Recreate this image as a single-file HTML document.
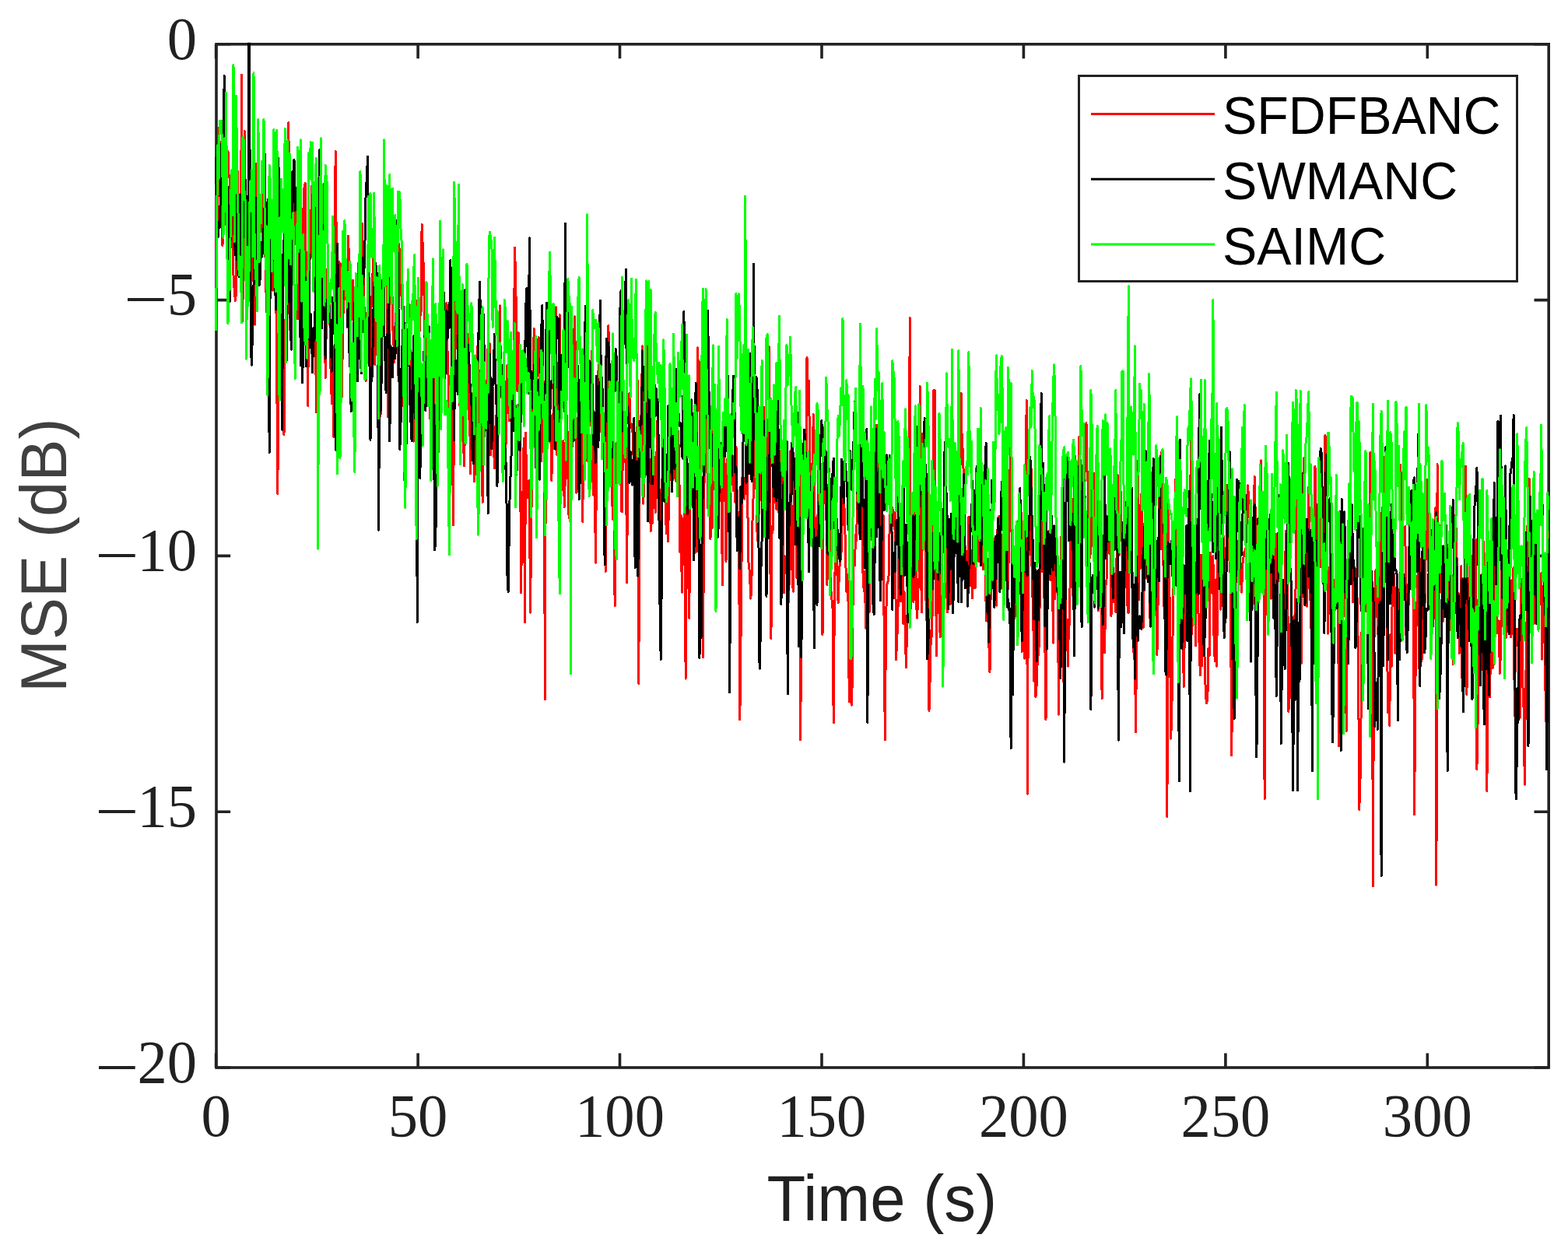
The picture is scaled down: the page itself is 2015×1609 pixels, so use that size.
<!DOCTYPE html>
<html><head><meta charset="utf-8"><title>MSE (dB) vs Time (s)</title>
<style>html,body{margin:0;padding:0;background:#fff;}body{width:2015px;height:1609px;overflow:hidden;}svg{display:block;}</style>
</head><body>
<svg width="2015" height="1609" viewBox="0 0 2015 1609">
<defs><clipPath id="c"><rect x="275.6" y="54.8" width="1716.4" height="1319.2"/></clipPath></defs>
<path d="M277.6 1372.0V1353.5M277.6 56.8V75.3M537.1 1372.0V1353.5M537.1 56.8V75.3M796.5 1372.0V1353.5M796.5 56.8V75.3M1056.0 1372.0V1353.5M1056.0 56.8V75.3M1315.4 1372.0V1353.5M1315.4 56.8V75.3M1574.9 1372.0V1353.5M1574.9 56.8V75.3M1834.3 1372.0V1353.5M1834.3 56.8V75.3M277.6 56.8H296.1M1990.0 56.8H1971.5M277.6 385.6H296.1M1990.0 385.6H1971.5M277.6 714.4H296.1M1990.0 714.4H1971.5M277.6 1043.2H296.1M1990.0 1043.2H1971.5M277.6 1372.0H296.1M1990.0 1372.0H1971.5" stroke="#222222" stroke-width="3.6" fill="none"/>
<rect x="278.0" y="56.8" width="1712.2" height="1315.2" fill="none" stroke="#222222" stroke-width="3.6"/>
<g clip-path="url(#c)"><polyline fill="none" stroke="#ff0000" stroke-width="3" stroke-linejoin="round" shape-rendering="crispEdges" points="277.6,319.8 278.8,293.5 280.0,254.1 281.1,164.6 282.3,225.9 283.5,182.2 284.7,257.7 285.9,316.0 287.0,296.7 288.2,288.8 289.4,270.4 290.6,235.1 291.8,211.0 293.0,194.2 294.1,225.9 295.3,229.5 296.5,318.3 297.7,269.4 298.9,284.9 300.0,354.0 301.2,372.8 302.4,386.4 303.6,376.8 304.8,202.0 305.9,291.1 307.1,311.9 308.3,348.0 309.5,268.0 310.7,96.3 311.8,413.1 313.0,258.2 314.2,168.3 315.4,276.3 316.6,389.2 317.8,356.5 318.9,301.9 320.1,284.2 321.3,356.1 322.5,370.4 323.7,239.3 324.8,360.9 326.0,354.5 327.2,417.2 328.4,320.8 329.6,210.5 330.7,261.6 331.9,321.8 333.1,299.7 334.3,262.5 335.5,270.6 336.6,285.2 337.8,326.0 339.0,237.7 340.2,287.6 341.4,351.4 342.6,400.4 343.7,332.3 344.9,335.0 346.1,288.2 347.3,327.0 348.5,316.6 349.6,322.0 350.8,373.2 352.0,325.5 353.2,357.8 354.4,364.4 355.5,434.4 356.7,634.4 357.9,518.6 359.1,406.1 360.3,455.4 361.4,385.0 362.6,352.0 363.8,390.0 365.0,558.9 366.2,410.9 367.4,421.3 368.5,320.1 369.7,313.3 370.9,157.4 372.1,423.8 373.3,319.6 374.4,277.1 375.6,244.0 376.8,303.3 378.0,233.9 379.2,262.4 380.3,310.9 381.5,317.0 382.7,409.8 383.9,348.5 385.1,297.9 386.2,232.3 387.4,349.9 388.6,268.1 389.8,301.2 391.0,241.4 392.2,235.6 393.3,353.6 394.5,411.2 395.7,521.3 396.9,336.7 398.1,333.6 399.2,331.5 400.4,239.4 401.6,277.6 402.8,292.5 404.0,300.6 405.1,330.4 406.3,529.5 407.5,460.5 408.7,428.3 409.9,354.0 411.0,340.2 412.2,329.4 413.4,364.8 414.6,321.6 415.8,236.3 417.0,261.0 418.1,485.5 419.3,420.3 420.5,346.1 421.7,369.2 422.9,386.0 424.0,417.9 425.2,483.3 426.4,519.0 427.6,458.4 428.8,561.8 429.9,472.5 431.1,194.2 432.3,313.4 433.5,314.5 434.7,452.4 435.8,336.7 437.0,338.4 438.2,345.1 439.4,510.4 440.6,417.2 441.8,375.8 442.9,384.5 444.1,341.4 445.3,363.1 446.5,420.8 447.7,303.1 448.8,357.3 450.0,461.4 451.2,403.1 452.4,400.3 453.6,360.6 454.7,451.7 455.9,563.4 457.1,454.5 458.3,465.4 459.5,486.0 460.6,338.6 461.8,426.2 463.0,369.7 464.2,319.6 465.4,287.2 466.6,329.9 467.7,378.5 468.9,438.5 470.1,489.5 471.3,413.4 472.5,392.3 473.6,401.0 474.8,363.5 476.0,473.2 477.2,381.1 478.4,386.3 479.5,321.9 480.7,377.0 481.9,468.9 483.1,354.3 484.3,371.0 485.4,480.5 486.6,417.1 487.8,488.5 489.0,535.1 490.2,444.4 491.4,423.0 492.5,364.1 493.7,283.9 494.9,322.8 496.1,262.0 497.3,287.2 498.4,535.6 499.6,499.6 500.8,387.4 502.0,379.3 503.2,276.0 504.3,419.1 505.5,428.0 506.7,465.9 507.9,424.1 509.1,372.3 510.3,385.4 511.4,482.1 512.6,313.5 513.8,329.4 515.0,379.9 516.2,325.3 517.3,424.6 518.5,453.4 519.7,616.7 520.9,513.0 522.1,457.3 523.2,423.4 524.4,459.5 525.6,419.7 526.8,391.8 528.0,528.2 529.1,523.5 530.3,502.5 531.5,567.3 532.7,527.2 533.9,469.6 535.1,410.0 536.2,387.4 537.4,383.5 538.6,441.2 539.8,398.2 541.0,404.3 542.1,288.4 543.3,317.9 544.5,349.0 545.7,422.2 546.9,492.6 548.0,503.7 549.2,413.8 550.4,420.9 551.6,458.2 552.8,538.2 553.9,462.6 555.1,504.1 556.3,492.4 557.5,561.5 558.7,475.3 559.9,545.0 561.0,434.9 562.2,465.4 563.4,580.9 564.6,483.2 565.8,421.2 566.9,436.1 568.1,412.5 569.3,380.7 570.5,429.0 571.7,446.4 572.8,392.7 574.0,389.7 575.2,460.9 576.4,491.7 577.6,578.5 578.7,529.6 579.9,472.8 581.1,468.3 582.3,674.7 583.5,547.0 584.7,491.0 585.8,345.6 587.0,343.6 588.2,411.6 589.4,474.0 590.6,520.7 591.7,378.7 592.9,464.1 594.1,472.3 595.3,559.7 596.5,599.0 597.6,544.5 598.8,486.5 600.0,497.5 601.2,429.3 602.4,539.0 603.5,524.8 604.7,608.6 605.9,505.4 607.1,521.5 608.3,516.0 609.5,618.8 610.6,601.0 611.8,539.1 613.0,515.5 614.2,430.6 615.4,584.6 616.5,519.6 617.7,475.7 618.9,543.2 620.1,645.6 621.3,549.7 622.4,560.8 623.6,507.3 624.8,490.3 626.0,488.7 627.2,441.1 628.3,516.1 629.5,441.8 630.7,584.6 631.9,516.3 633.1,497.1 634.3,562.5 635.4,602.0 636.6,595.0 637.8,533.4 639.0,577.3 640.2,482.7 641.3,480.5 642.5,392.8 643.7,510.6 644.9,497.7 646.1,493.9 647.2,510.8 648.4,490.4 649.6,602.8 650.8,512.0 652.0,469.5 653.1,501.6 654.3,540.7 655.5,467.2 656.7,477.4 657.9,538.1 659.1,536.5 660.2,482.9 661.4,318.0 662.6,354.4 663.8,434.2 665.0,502.5 666.1,427.6 667.3,528.2 668.5,581.9 669.7,761.9 670.9,632.2 672.0,640.9 673.2,563.1 674.4,799.9 675.6,556.5 676.8,637.4 677.9,639.8 679.1,618.1 680.3,617.8 681.5,787.2 682.7,682.7 683.9,567.0 685.0,493.2 686.2,422.5 687.4,515.6 688.6,518.3 689.8,478.4 690.9,463.4 692.1,433.5 693.3,500.7 694.5,546.3 695.7,592.5 696.8,554.8 698.0,488.2 699.2,557.1 700.4,898.5 701.6,463.3 702.7,508.6 703.9,491.3 705.1,502.6 706.3,534.9 707.5,534.0 708.7,617.4 709.8,587.9 711.0,531.4 712.2,486.2 713.4,516.0 714.6,394.8 715.7,584.4 716.9,532.1 718.1,489.9 719.3,404.6 720.5,532.6 721.6,630.1 722.8,617.6 724.0,566.2 725.2,651.4 726.4,612.4 727.5,580.8 728.7,534.2 729.9,611.1 731.1,665.6 732.3,563.9 733.5,508.3 734.6,597.9 735.8,532.0 737.0,510.2 738.2,406.8 739.4,452.3 740.5,633.2 741.7,631.5 742.9,538.2 744.1,515.5 745.3,524.2 746.4,528.3 747.6,482.9 748.8,670.8 750.0,509.9 751.2,551.7 752.3,488.2 753.5,548.8 754.7,592.4 755.9,585.2 757.1,507.4 758.3,546.6 759.4,523.1 760.6,450.9 761.8,616.2 763.0,637.1 764.2,577.0 765.3,723.2 766.5,611.4 767.7,522.7 768.9,476.9 770.1,465.7 771.2,539.2 772.4,554.4 773.6,529.8 774.8,553.3 776.0,566.6 777.1,677.6 778.3,734.4 779.5,573.6 780.7,521.2 781.9,418.3 783.1,496.9 784.2,513.3 785.4,511.3 786.6,642.4 787.8,667.2 789.0,596.5 790.1,778.8 791.3,667.7 792.5,592.9 793.7,535.5 794.9,501.5 796.0,516.0 797.2,520.5 798.4,657.2 799.6,657.9 800.8,504.2 801.9,593.6 803.1,585.3 804.3,540.4 805.5,748.9 806.7,609.8 807.9,553.6 809.0,505.1 810.2,549.3 811.4,548.4 812.6,545.7 813.8,575.5 814.9,623.2 816.1,586.6 817.3,601.7 818.5,527.1 819.7,489.6 820.8,878.8 822.0,580.6 823.2,567.5 824.4,516.8 825.6,444.7 826.7,647.1 827.9,618.7 829.1,562.9 830.3,505.4 831.5,388.5 832.7,606.7 833.8,582.8 835.0,615.8 836.2,682.7 837.4,586.2 838.6,672.2 839.7,603.5 840.9,587.1 842.1,658.9 843.3,635.8 844.5,541.2 845.6,541.5 846.8,636.0 848.0,702.6 849.2,651.6 850.4,616.2 851.5,622.3 852.7,640.5 853.9,604.4 855.1,642.8 856.3,685.7 857.5,644.2 858.6,695.4 859.8,620.4 861.0,606.2 862.2,599.5 863.4,592.7 864.5,617.1 865.7,588.1 866.9,580.5 868.1,618.2 869.3,579.0 870.4,595.6 871.6,553.9 872.8,603.6 874.0,710.1 875.2,662.2 876.3,761.1 877.5,704.0 878.7,689.5 879.9,597.9 881.1,872.2 882.3,545.4 883.4,649.4 884.6,737.2 885.8,794.7 887.0,617.1 888.2,586.5 889.3,602.7 890.5,637.0 891.7,620.9 892.9,710.7 894.1,707.3 895.2,708.8 896.4,446.9 897.6,475.6 898.8,464.8 900.0,588.4 901.1,642.8 902.3,708.0 903.5,844.8 904.7,655.1 905.9,530.2 907.1,513.1 908.2,518.9 909.4,649.7 910.6,657.1 911.8,613.6 913.0,693.0 914.1,596.0 915.3,678.3 916.5,543.4 917.7,616.0 918.9,624.1 920.0,679.4 921.2,599.0 922.4,591.9 923.6,600.4 924.8,643.6 926.0,631.4 927.1,588.3 928.3,751.8 929.5,574.1 930.7,591.0 931.9,605.1 933.0,721.2 934.2,677.2 935.4,547.6 936.6,666.6 937.8,648.5 938.9,633.0 940.1,540.9 941.3,598.8 942.5,630.5 943.7,601.4 944.8,645.2 946.0,574.6 947.2,638.8 948.4,665.9 949.6,698.7 950.8,925.1 951.9,829.7 953.1,714.2 954.3,581.1 955.5,634.7 956.7,641.2 957.8,624.6 959.0,572.0 960.2,548.5 961.4,720.6 962.6,725.1 963.7,744.2 964.9,769.2 966.1,737.2 967.3,646.8 968.5,636.5 969.6,547.7 970.8,603.9 972.0,628.6 973.2,693.8 974.4,697.1 975.6,627.1 976.7,643.1 977.9,609.0 979.1,591.9 980.3,584.4 981.5,523.3 982.6,555.6 983.8,525.4 985.0,612.2 986.2,625.2 987.4,654.6 988.5,445.7 989.7,707.7 990.9,820.9 992.1,675.9 993.3,681.1 994.4,557.8 995.6,628.0 996.8,644.8 998.0,655.0 999.2,613.7 1000.4,657.5 1001.5,629.0 1002.7,579.4 1003.9,652.0 1005.1,573.3 1006.3,623.1 1007.4,761.9 1008.6,715.6 1009.8,729.5 1011.0,726.7 1012.2,727.4 1013.3,773.8 1014.5,737.1 1015.7,579.9 1016.9,684.5 1018.1,736.2 1019.2,760.1 1020.4,598.3 1021.6,681.6 1022.8,676.1 1024.0,742.8 1025.2,631.1 1026.3,610.4 1027.5,594.1 1028.7,950.8 1029.9,771.3 1031.1,643.9 1032.2,668.0 1033.4,608.3 1034.6,646.7 1035.8,611.3 1037.0,459.7 1038.1,496.9 1039.3,489.3 1040.5,565.9 1041.7,632.9 1042.9,675.8 1044.0,636.6 1045.2,532.2 1046.4,638.0 1047.6,688.6 1048.8,765.2 1050.0,670.5 1051.1,660.2 1052.3,585.5 1053.5,668.1 1054.7,613.9 1055.9,603.6 1057.0,816.0 1058.2,618.5 1059.4,549.2 1060.6,624.5 1061.8,648.5 1062.9,751.5 1064.1,688.5 1065.3,601.5 1066.5,702.0 1067.7,756.3 1068.8,768.5 1070.0,781.5 1071.2,929.0 1072.4,765.9 1073.6,706.2 1074.8,682.1 1075.9,736.5 1077.1,774.8 1078.3,739.6 1079.5,719.3 1080.7,718.5 1081.8,687.7 1083.0,625.6 1084.2,633.3 1085.4,662.3 1086.6,711.1 1087.7,760.1 1088.9,738.8 1090.1,775.5 1091.3,901.8 1092.5,840.3 1093.6,901.9 1094.8,906.1 1096.0,778.6 1097.2,719.2 1098.4,726.7 1099.6,686.7 1100.7,695.3 1101.9,618.4 1103.1,596.5 1104.3,686.8 1105.5,591.2 1106.6,645.9 1107.8,605.9 1109.0,736.8 1110.2,759.3 1111.4,734.1 1112.5,807.3 1113.7,700.6 1114.9,733.5 1116.1,770.3 1117.3,786.4 1118.4,647.2 1119.6,656.3 1120.8,681.4 1122.0,630.8 1123.2,685.4 1124.4,622.6 1125.5,634.9 1126.7,546.3 1127.9,620.0 1129.1,631.1 1130.3,689.7 1131.4,682.0 1132.6,601.3 1133.8,739.2 1135.0,662.4 1136.2,814.3 1137.3,950.8 1138.5,799.6 1139.7,751.4 1140.9,748.3 1142.1,739.7 1143.2,675.4 1144.4,645.8 1145.6,683.1 1146.8,652.7 1148.0,660.1 1149.2,679.9 1150.3,658.7 1151.5,847.5 1152.7,824.4 1153.9,790.4 1155.1,684.3 1156.2,673.7 1157.4,772.5 1158.6,664.9 1159.8,636.5 1161.0,801.8 1162.1,760.8 1163.3,816.7 1164.5,857.5 1165.7,798.9 1166.9,764.2 1168.0,749.0 1169.2,408.6 1170.4,781.6 1171.6,753.7 1172.8,720.1 1174.0,774.0 1175.1,677.8 1176.3,631.4 1177.5,776.8 1178.7,794.1 1179.9,756.9 1181.0,745.9 1182.2,496.5 1183.4,728.9 1184.6,786.8 1185.8,557.1 1186.9,624.1 1188.1,593.3 1189.3,735.8 1190.5,796.6 1191.7,727.5 1192.8,610.8 1194.0,913.4 1195.2,870.3 1196.4,810.5 1197.6,818.0 1198.8,742.9 1199.9,501.0 1201.1,501.3 1202.3,718.6 1203.5,842.9 1204.7,721.0 1205.8,701.6 1207.0,784.4 1208.2,818.7 1209.4,685.9 1210.6,706.6 1211.7,689.5 1212.9,679.1 1214.1,670.9 1215.3,707.6 1216.5,753.7 1217.6,786.4 1218.8,715.0 1220.0,750.1 1221.2,776.9 1222.4,708.2 1223.6,682.2 1224.7,690.0 1225.9,657.2 1227.1,643.5 1228.3,677.9 1229.5,615.4 1230.6,621.3 1231.8,624.7 1233.0,633.6 1234.2,505.8 1235.4,505.8 1236.5,597.3 1237.7,577.0 1238.9,669.7 1240.1,703.0 1241.3,740.0 1242.4,755.7 1243.6,730.5 1244.8,664.5 1246.0,701.9 1247.2,752.3 1248.4,707.9 1249.5,768.9 1250.7,650.8 1251.9,755.8 1253.1,755.7 1254.3,602.5 1255.4,691.0 1256.6,685.3 1257.8,721.5 1259.0,694.8 1260.2,654.7 1261.3,688.7 1262.5,724.5 1263.7,731.8 1264.9,721.1 1266.1,653.9 1267.2,798.0 1268.4,781.3 1269.6,786.7 1270.8,826.7 1272.0,863.6 1273.2,753.9 1274.3,625.8 1275.5,683.2 1276.7,732.7 1277.9,710.9 1279.1,689.8 1280.2,778.2 1281.4,681.7 1282.6,709.8 1283.8,663.7 1285.0,663.3 1286.1,757.0 1287.3,706.2 1288.5,686.9 1289.7,710.5 1290.9,625.8 1292.0,656.0 1293.2,704.9 1294.4,728.3 1295.6,757.3 1296.8,660.2 1298.0,603.3 1299.1,552.7 1300.3,725.3 1301.5,694.7 1302.7,709.0 1303.9,794.8 1305.0,760.8 1306.2,791.9 1307.4,714.7 1308.6,766.1 1309.8,759.1 1310.9,695.2 1312.1,658.4 1313.3,837.5 1314.5,744.5 1315.7,709.2 1316.8,846.2 1318.0,645.5 1319.2,514.5 1320.4,1020.2 1321.6,681.6 1322.8,700.6 1323.9,712.3 1325.1,602.3 1326.3,766.7 1327.5,763.4 1328.7,875.4 1329.8,766.3 1331.0,895.6 1332.2,879.2 1333.4,843.4 1334.6,841.4 1335.7,814.7 1336.9,690.2 1338.1,642.7 1339.3,735.0 1340.5,688.0 1341.6,740.4 1342.8,821.2 1344.0,924.7 1345.2,758.0 1346.4,706.4 1347.6,682.8 1348.7,743.3 1349.9,745.7 1351.1,717.8 1352.3,729.0 1353.5,826.1 1354.6,693.9 1355.8,769.4 1357.0,729.9 1358.2,745.9 1359.4,768.8 1360.5,918.1 1361.7,784.5 1362.9,773.4 1364.1,682.9 1365.3,684.7 1366.5,875.5 1367.6,786.7 1368.8,679.8 1370.0,806.4 1371.2,796.0 1372.4,856.2 1373.5,796.3 1374.7,802.9 1375.9,621.7 1377.1,698.7 1378.3,764.3 1379.4,693.5 1380.6,588.7 1381.8,586.6 1383.0,692.1 1384.2,772.9 1385.3,697.3 1386.5,562.0 1387.7,568.3 1388.9,649.3 1390.1,664.3 1391.3,663.9 1392.4,685.0 1393.6,606.7 1394.8,587.3 1396.0,543.7 1397.2,617.9 1398.3,606.7 1399.5,736.7 1400.7,694.0 1401.9,712.0 1403.1,620.3 1404.2,667.8 1405.4,608.4 1406.6,641.5 1407.8,668.2 1409.0,616.8 1410.1,644.7 1411.3,784.8 1412.5,756.5 1413.7,644.8 1414.9,750.2 1416.1,897.5 1417.2,767.3 1418.4,747.7 1419.6,838.5 1420.8,753.8 1422.0,745.0 1423.1,688.9 1424.3,661.9 1425.5,710.6 1426.7,684.6 1427.9,791.9 1429.0,776.0 1430.2,654.7 1431.4,773.4 1432.6,768.9 1433.8,786.5 1434.9,728.7 1436.1,610.6 1437.3,627.6 1438.5,713.1 1439.7,610.3 1440.9,690.7 1442.0,696.0 1443.2,713.8 1444.4,676.3 1445.6,754.5 1446.8,659.3 1447.9,692.2 1449.1,786.2 1450.3,787.5 1451.5,677.9 1452.7,648.4 1453.8,699.4 1455.0,733.4 1456.2,838.2 1457.4,832.6 1458.6,863.7 1459.7,940.8 1460.9,737.2 1462.1,592.3 1463.3,771.0 1464.5,649.2 1465.7,730.2 1466.8,634.7 1468.0,672.1 1469.2,806.8 1470.4,738.3 1471.6,697.1 1472.7,660.1 1473.9,743.6 1475.1,646.1 1476.3,661.7 1477.5,793.8 1478.6,705.3 1479.8,719.6 1481.0,700.7 1482.2,697.2 1483.4,629.3 1484.5,707.1 1485.7,710.2 1486.9,841.4 1488.1,773.1 1489.3,690.3 1490.5,595.3 1491.6,705.6 1492.8,581.1 1494.0,612.5 1495.2,747.3 1496.4,794.6 1497.5,738.2 1498.7,799.0 1499.9,1049.8 1501.1,644.6 1502.3,724.0 1503.4,790.0 1504.6,949.1 1505.8,919.0 1507.0,819.3 1508.2,700.5 1509.3,733.9 1510.5,616.5 1511.7,699.7 1512.9,744.9 1514.1,771.5 1515.3,820.3 1516.4,580.5 1517.6,719.9 1518.8,768.7 1520.0,768.6 1521.2,882.3 1522.3,814.7 1523.5,786.6 1524.7,726.2 1525.9,744.4 1527.1,710.4 1528.2,772.7 1529.4,670.4 1530.6,554.4 1531.8,814.7 1533.0,758.1 1534.1,684.2 1535.3,685.4 1536.5,829.9 1537.7,716.7 1538.9,688.3 1540.1,796.4 1541.2,832.3 1542.4,867.7 1543.6,713.3 1544.8,855.7 1546.0,777.7 1547.1,804.2 1548.3,856.8 1549.5,895.6 1550.7,903.7 1551.9,895.9 1553.0,833.1 1554.2,842.9 1555.4,710.5 1556.6,742.1 1557.8,762.3 1558.9,714.2 1560.1,825.5 1561.3,849.7 1562.5,744.8 1563.7,856.2 1564.9,711.1 1566.0,610.5 1567.2,694.3 1568.4,783.1 1569.6,776.7 1570.8,758.8 1571.9,679.2 1573.1,775.6 1574.3,757.3 1575.5,763.4 1576.7,623.4 1577.8,718.9 1579.0,713.7 1580.2,722.7 1581.4,742.0 1582.6,970.9 1583.7,890.6 1584.9,751.1 1586.1,679.7 1587.3,694.1 1588.5,653.3 1589.7,747.3 1590.8,733.7 1592.0,697.5 1593.2,705.4 1594.4,740.9 1595.6,761.2 1596.7,726.0 1597.9,716.7 1599.1,708.0 1600.3,707.4 1601.5,701.7 1602.6,644.3 1603.8,623.8 1605.0,664.4 1606.2,654.7 1607.4,718.6 1608.5,700.5 1609.7,781.4 1610.9,765.3 1612.1,612.6 1613.3,662.7 1614.5,691.2 1615.6,707.8 1616.8,700.6 1618.0,714.8 1619.2,737.1 1620.4,591.8 1621.5,664.0 1622.7,687.2 1623.9,708.8 1625.1,1026.7 1626.3,721.1 1627.4,782.7 1628.6,769.1 1629.8,732.4 1631.0,756.2 1632.2,678.6 1633.3,769.2 1634.5,730.5 1635.7,753.0 1636.9,759.6 1638.1,795.2 1639.3,686.2 1640.4,690.2 1641.6,773.9 1642.8,701.4 1644.0,653.9 1645.2,696.6 1646.3,728.5 1647.5,791.1 1648.7,772.3 1649.9,843.9 1651.1,844.3 1652.2,682.5 1653.4,802.2 1654.6,726.8 1655.8,914.6 1657.0,900.4 1658.1,811.1 1659.3,798.1 1660.5,792.8 1661.7,972.4 1662.9,815.3 1664.1,788.2 1665.2,751.3 1666.4,551.9 1667.6,611.4 1668.8,740.7 1670.0,718.6 1671.1,683.5 1672.3,852.1 1673.5,712.4 1674.7,663.4 1675.9,588.5 1677.0,765.7 1678.2,734.2 1679.4,779.3 1680.6,718.7 1681.8,625.9 1682.9,755.4 1684.1,772.9 1685.3,819.3 1686.5,837.3 1687.7,789.9 1688.9,729.3 1690.0,599.4 1691.2,682.9 1692.4,795.4 1693.6,750.1 1694.8,744.8 1695.9,622.1 1697.1,728.3 1698.3,651.6 1699.5,725.4 1700.7,712.2 1701.8,703.3 1703.0,559.2 1704.2,596.0 1705.4,695.4 1706.6,814.3 1707.7,729.5 1708.9,788.9 1710.1,642.6 1711.3,648.0 1712.5,763.4 1713.7,744.8 1714.8,774.4 1716.0,783.9 1717.2,739.5 1718.4,740.7 1719.6,790.0 1720.7,959.0 1721.9,842.4 1723.1,800.4 1724.3,801.1 1725.5,799.1 1726.6,749.6 1727.8,696.5 1729.0,793.1 1730.2,939.9 1731.4,734.2 1732.5,725.9 1733.7,711.3 1734.9,641.4 1736.1,729.3 1737.3,706.1 1738.5,773.5 1739.6,767.5 1740.8,732.8 1742.0,781.7 1743.2,731.4 1744.4,785.8 1745.5,841.1 1746.7,1040.3 1747.9,1010.8 1749.1,916.2 1750.3,779.8 1751.4,827.8 1752.6,772.2 1753.8,709.2 1755.0,785.2 1756.2,658.8 1757.3,765.9 1758.5,765.0 1759.7,757.7 1760.9,581.2 1762.1,767.1 1763.3,747.8 1764.4,1138.6 1765.6,825.5 1766.8,807.6 1768.0,732.7 1769.2,762.4 1770.3,769.9 1771.5,847.7 1772.7,826.1 1773.9,726.1 1775.1,685.5 1776.2,652.3 1777.4,666.5 1778.6,587.2 1779.8,696.7 1781.0,680.4 1782.2,719.6 1783.3,915.9 1784.5,880.8 1785.7,932.5 1786.9,815.3 1788.1,856.3 1789.2,765.0 1790.4,753.3 1791.6,738.2 1792.8,839.6 1794.0,755.7 1795.1,843.5 1796.3,772.6 1797.5,758.2 1798.7,815.3 1799.9,597.7 1801.0,670.0 1802.2,655.0 1803.4,697.5 1804.6,699.4 1805.8,676.6 1807.0,817.2 1808.1,753.1 1809.3,751.3 1810.5,776.9 1811.7,710.8 1812.9,747.2 1814.0,638.2 1815.2,740.2 1816.4,744.7 1817.6,1046.8 1818.8,889.2 1819.9,782.8 1821.1,772.5 1822.3,728.4 1823.5,858.4 1824.7,718.2 1825.8,753.7 1827.0,849.4 1828.2,780.4 1829.4,761.3 1830.6,802.1 1831.8,723.5 1832.9,705.7 1834.1,616.5 1835.3,669.5 1836.5,779.2 1837.7,718.7 1838.8,765.8 1840.0,772.3 1841.2,757.7 1842.4,794.6 1843.6,679.9 1844.7,652.5 1845.9,1137.2 1847.1,596.8 1848.3,694.6 1849.5,704.0 1850.6,675.5 1851.8,761.7 1853.0,747.5 1854.2,798.4 1855.4,773.8 1856.6,712.5 1857.7,705.4 1858.9,696.3 1860.1,722.1 1861.3,738.0 1862.5,776.4 1863.6,742.6 1864.8,810.3 1866.0,800.5 1867.2,853.6 1868.4,728.7 1869.5,662.1 1870.7,666.4 1871.9,709.0 1873.1,792.6 1874.3,762.5 1875.4,839.5 1876.6,833.2 1877.8,727.4 1879.0,871.6 1880.2,743.2 1881.4,820.7 1882.5,734.6 1883.7,599.1 1884.9,892.3 1886.1,806.2 1887.3,748.2 1888.4,738.9 1889.6,704.7 1890.8,767.8 1892.0,714.8 1893.2,813.2 1894.3,797.7 1895.5,715.0 1896.7,693.5 1897.9,988.8 1899.1,926.6 1900.2,768.9 1901.4,763.4 1902.6,748.6 1903.8,738.7 1905.0,860.7 1906.2,695.9 1907.3,740.9 1908.5,741.2 1909.7,778.8 1910.9,1016.9 1912.1,787.8 1913.2,772.1 1914.4,895.6 1915.6,839.9 1916.8,774.5 1918.0,858.8 1919.1,854.9 1920.3,702.1 1921.5,756.7 1922.7,751.1 1923.9,813.5 1925.0,797.6 1926.2,800.8 1927.4,865.3 1928.6,832.7 1929.8,730.9 1931.0,752.4 1932.1,809.9 1933.3,725.4 1934.5,773.8 1935.7,819.2 1936.9,724.3 1938.0,707.2 1939.2,741.6 1940.4,746.4 1941.6,818.5 1942.8,812.3 1943.9,745.9 1945.1,729.1 1946.3,919.8 1947.5,825.5 1948.7,829.6 1949.8,808.0 1951.0,828.3 1952.2,808.9 1953.4,922.4 1954.6,744.6 1955.8,749.1 1956.9,881.0 1958.1,911.6 1959.3,1008.1 1960.5,869.3 1961.7,849.5 1962.8,675.7 1964.0,685.0 1965.2,615.7 1966.4,761.1 1967.6,758.4 1968.7,771.0 1969.9,764.8 1971.1,801.6 1972.3,661.6 1973.5,692.0 1974.6,802.0 1975.8,709.3 1977.0,711.0 1978.2,769.4 1979.4,750.3 1980.6,736.8 1981.7,847.1 1982.9,752.9 1984.1,806.2 1985.3,833.2 1986.5,927.1 1987.6,798.4 1988.8,730.6 1990.0,681.5"/>
<polyline fill="none" stroke="#000000" stroke-width="3" stroke-linejoin="round" shape-rendering="crispEdges" points="277.6,201.5 278.8,303.4 280.0,304.9 281.1,285.3 282.3,292.2 283.5,244.0 284.7,185.1 285.9,196.3 287.0,203.0 288.2,97.6 289.4,173.5 290.6,197.3 291.8,227.9 293.0,288.6 294.1,264.0 295.3,387.6 296.5,257.1 297.7,229.1 298.9,261.1 300.0,252.8 301.2,310.9 302.4,327.3 303.6,251.5 304.8,332.6 305.9,345.3 307.1,355.4 308.3,249.8 309.5,337.1 310.7,330.6 311.8,275.9 313.0,304.7 314.2,295.5 315.4,231.5 316.6,286.3 317.8,365.6 318.9,272.8 320.1,37.1 321.3,241.1 322.5,453.4 323.7,469.2 324.8,384.1 326.0,366.8 327.2,296.0 328.4,254.1 329.6,324.4 330.7,363.8 331.9,295.3 333.1,367.1 334.3,357.4 335.5,311.5 336.6,330.3 337.8,321.4 339.0,294.0 340.2,197.7 341.4,288.3 342.6,348.4 343.7,275.6 344.9,255.5 346.1,581.6 347.3,324.3 348.5,267.7 349.6,268.0 350.8,298.2 352.0,305.6 353.2,341.1 354.4,397.6 355.5,309.1 356.7,212.4 357.9,203.4 359.1,324.8 360.3,357.1 361.4,328.3 362.6,552.2 363.8,330.0 365.0,308.5 366.2,276.9 367.4,314.2 368.5,462.8 369.7,295.2 370.9,285.7 372.1,385.7 373.3,416.6 374.4,449.2 375.6,220.9 376.8,252.5 378.0,204.9 379.2,270.7 380.3,249.1 381.5,240.8 382.7,290.9 383.9,219.7 385.1,262.4 386.2,469.3 387.4,388.0 388.6,492.0 389.8,436.5 391.0,396.6 392.2,356.4 393.3,471.0 394.5,424.2 395.7,403.6 396.9,312.7 398.1,446.3 399.2,403.1 400.4,429.7 401.6,479.0 402.8,421.4 404.0,437.3 405.1,397.2 406.3,217.4 407.5,289.3 408.7,343.4 409.9,262.7 411.0,192.5 412.2,354.8 413.4,422.0 414.6,289.2 415.8,311.5 417.0,411.5 418.1,460.8 419.3,385.9 420.5,401.5 421.7,376.2 422.9,390.2 424.0,410.2 425.2,422.3 426.4,477.3 427.6,382.3 428.8,428.4 429.9,351.8 431.1,578.2 432.3,408.4 433.5,313.1 434.7,373.1 435.8,407.8 437.0,435.6 438.2,410.1 439.4,428.2 440.6,344.2 441.8,317.9 442.9,301.8 444.1,341.8 445.3,348.2 446.5,419.7 447.7,390.5 448.8,450.1 450.0,471.9 451.2,528.8 452.4,469.7 453.6,494.8 454.7,424.2 455.9,388.5 457.1,441.8 458.3,412.6 459.5,489.7 460.6,430.1 461.8,344.7 463.0,439.1 464.2,480.0 465.4,404.4 466.6,331.3 467.7,356.1 468.9,315.8 470.1,248.7 471.3,229.7 472.5,201.3 473.6,306.7 474.8,450.9 476.0,565.4 477.2,477.6 478.4,484.1 479.5,417.0 480.7,370.6 481.9,337.3 483.1,341.0 484.3,352.3 485.4,416.5 486.6,681.1 487.8,455.7 489.0,528.6 490.2,486.1 491.4,398.6 492.5,326.8 493.7,422.9 494.9,459.4 496.1,505.0 497.3,430.1 498.4,439.0 499.6,356.9 500.8,567.1 502.0,444.7 503.2,483.6 504.3,484.9 505.5,446.9 506.7,455.7 507.9,460.3 509.1,410.6 510.3,283.6 511.4,345.8 512.6,446.3 513.8,577.7 515.0,544.3 516.2,461.0 517.3,437.9 518.5,393.9 519.7,441.6 520.9,523.7 522.1,571.2 523.2,443.8 524.4,423.5 525.6,446.7 526.8,516.5 528.0,542.8 529.1,566.4 530.3,480.7 531.5,431.7 532.7,528.7 533.9,538.6 535.1,462.4 536.2,799.9 537.4,456.1 538.6,437.9 539.8,614.4 541.0,539.1 542.1,562.8 543.3,544.9 544.5,464.9 545.7,432.2 546.9,527.8 548.0,477.0 549.2,519.5 550.4,434.5 551.6,420.1 552.8,519.8 553.9,490.7 555.1,542.8 556.3,472.3 557.5,550.6 558.7,706.7 559.9,694.0 561.0,545.8 562.2,582.1 563.4,520.7 564.6,532.4 565.8,454.7 566.9,439.6 568.1,435.6 569.3,403.5 570.5,376.3 571.7,494.1 572.8,447.0 574.0,399.3 575.2,434.8 576.4,406.6 577.6,421.2 578.7,334.5 579.9,365.5 581.1,483.0 582.3,471.0 583.5,565.5 584.7,475.2 585.8,463.6 587.0,491.4 588.2,506.3 589.4,395.4 590.6,417.0 591.7,380.2 592.9,402.5 594.1,419.3 595.3,500.2 596.5,413.1 597.6,372.9 598.8,456.6 600.0,445.4 601.2,447.9 602.4,443.5 603.5,486.8 604.7,502.0 605.9,513.6 607.1,582.9 608.3,596.0 609.5,546.4 610.6,547.4 611.8,462.3 613.0,500.8 614.2,459.5 615.4,411.2 616.5,362.1 617.7,413.5 618.9,500.0 620.1,425.8 621.3,403.5 622.4,464.4 623.6,553.2 624.8,498.7 626.0,519.4 627.2,659.7 628.3,505.4 629.5,455.3 630.7,522.2 631.9,576.3 633.1,489.8 634.3,485.6 635.4,429.1 636.6,492.0 637.8,497.2 639.0,624.7 640.2,475.2 641.3,445.2 642.5,499.8 643.7,453.0 644.9,509.3 646.1,491.5 647.2,499.4 648.4,601.6 649.6,577.0 650.8,627.2 652.0,740.2 653.1,760.9 654.3,684.3 655.5,614.4 656.7,610.0 657.9,518.6 659.1,460.4 660.2,554.0 661.4,491.5 662.6,547.7 663.8,610.2 665.0,580.5 666.1,520.2 667.3,545.6 668.5,578.5 669.7,495.2 670.9,470.4 672.0,517.5 673.2,501.2 674.4,477.6 675.6,399.3 676.8,370.6 677.9,439.8 679.1,505.6 680.3,305.8 681.5,460.5 682.7,497.7 683.9,499.1 685.0,524.8 686.2,469.2 687.4,501.7 688.6,601.3 689.8,512.6 690.9,506.6 692.1,488.0 693.3,616.1 694.5,485.8 695.7,425.0 696.8,392.2 698.0,497.8 699.2,521.6 700.4,542.7 701.6,443.7 702.7,389.4 703.9,503.8 705.1,417.3 706.3,566.3 707.5,498.8 708.7,498.4 709.8,465.1 711.0,486.7 712.2,458.3 713.4,577.2 714.6,426.6 715.7,407.4 716.9,434.7 718.1,409.6 719.3,555.5 720.5,557.3 721.6,456.1 722.8,464.2 724.0,464.8 725.2,528.3 726.4,287.0 727.5,464.7 728.7,490.4 729.9,400.2 731.1,471.7 732.3,432.3 733.5,501.4 734.6,535.6 735.8,543.5 737.0,566.8 738.2,549.6 739.4,533.0 740.5,491.0 741.7,483.4 742.9,470.7 744.1,641.5 745.3,616.1 746.4,464.2 747.6,499.7 748.8,494.9 750.0,509.1 751.2,471.0 752.3,393.2 753.5,536.0 754.7,513.7 755.9,488.6 757.1,463.9 758.3,465.8 759.4,540.3 760.6,478.7 761.8,516.9 763.0,571.6 764.2,536.5 765.3,594.4 766.5,483.6 767.7,510.8 768.9,574.9 770.1,498.0 771.2,386.0 772.4,488.7 773.6,485.6 774.8,523.1 776.0,577.5 777.1,726.0 778.3,488.0 779.5,435.3 780.7,458.2 781.9,440.0 783.1,493.2 784.2,468.8 785.4,565.7 786.6,587.9 787.8,512.7 789.0,464.7 790.1,503.1 791.3,448.4 792.5,463.4 793.7,530.6 794.9,519.8 796.0,501.0 797.2,376.5 798.4,372.9 799.6,554.3 800.8,448.3 801.9,422.6 803.1,405.9 804.3,346.0 805.5,518.3 806.7,527.7 807.9,535.8 809.0,620.9 810.2,580.5 811.4,595.2 812.6,623.1 813.8,601.9 814.9,536.9 816.1,730.1 817.3,604.3 818.5,592.8 819.7,740.1 820.8,666.6 822.0,561.3 823.2,536.4 824.4,545.2 825.6,450.9 826.7,501.3 827.9,471.8 829.1,519.1 830.3,534.4 831.5,567.9 832.7,669.6 833.8,502.9 835.0,563.7 836.2,479.7 837.4,621.9 838.6,622.0 839.7,528.0 840.9,489.5 842.1,534.4 843.3,499.8 844.5,526.2 845.6,513.5 846.8,645.7 848.0,777.1 849.2,847.9 850.4,732.6 851.5,555.3 852.7,624.4 853.9,644.4 855.1,593.1 856.3,592.0 857.5,635.6 858.6,521.9 859.8,573.3 861.0,523.1 862.2,554.6 863.4,632.0 864.5,555.1 865.7,547.1 866.9,602.5 868.1,591.2 869.3,474.2 870.4,527.3 871.6,526.5 872.8,540.3 874.0,547.8 875.2,544.6 876.3,586.0 877.5,589.3 878.7,400.7 879.9,445.6 881.1,526.5 882.3,553.6 883.4,660.1 884.6,596.1 885.8,625.1 887.0,545.0 888.2,513.8 889.3,535.3 890.5,604.0 891.7,719.8 892.9,657.4 894.1,492.4 895.2,567.2 896.4,622.2 897.6,613.9 898.8,845.6 900.0,819.6 901.1,819.1 902.3,662.1 903.5,627.3 904.7,591.1 905.9,541.7 907.1,503.4 908.2,500.0 909.4,399.5 910.6,464.0 911.8,575.9 913.0,541.2 914.1,592.3 915.3,599.0 916.5,582.7 917.7,523.0 918.9,594.7 920.0,558.3 921.2,609.6 922.4,690.3 923.6,669.8 924.8,568.4 926.0,570.5 927.1,601.6 928.3,582.4 929.5,533.2 930.7,577.2 931.9,586.8 933.0,535.0 934.2,513.8 935.4,482.8 936.6,577.9 937.8,890.0 938.9,576.2 940.1,611.6 941.3,525.1 942.5,483.1 943.7,489.4 944.8,607.1 946.0,600.4 947.2,707.8 948.4,692.3 949.6,664.9 950.8,730.5 951.9,624.9 953.1,647.1 954.3,638.1 955.5,520.5 956.7,538.3 957.8,511.5 959.0,620.3 960.2,590.4 961.4,542.6 962.6,608.6 963.7,454.1 964.9,600.5 966.1,618.2 967.3,610.3 968.5,339.6 969.6,564.9 970.8,538.0 972.0,484.4 973.2,503.2 974.4,556.1 975.6,846.7 976.7,859.1 977.9,731.2 979.1,692.6 980.3,584.3 981.5,541.2 982.6,590.8 983.8,550.4 985.0,766.2 986.2,632.7 987.4,691.2 988.5,610.5 989.7,548.7 990.9,529.1 992.1,582.9 993.3,605.7 994.4,637.8 995.6,604.0 996.8,584.6 998.0,643.6 999.2,507.5 1000.4,571.8 1001.5,691.2 1002.7,595.2 1003.9,776.7 1005.1,694.5 1006.3,623.7 1007.4,645.1 1008.6,593.3 1009.8,587.8 1011.0,567.4 1012.2,892.0 1013.3,714.1 1014.5,651.5 1015.7,635.7 1016.9,644.1 1018.1,562.3 1019.2,584.9 1020.4,617.1 1021.6,589.4 1022.8,699.9 1024.0,632.3 1025.2,530.3 1026.3,830.7 1027.5,766.0 1028.7,665.7 1029.9,844.7 1031.1,621.6 1032.2,604.4 1033.4,552.0 1034.6,562.1 1035.8,662.0 1037.0,581.7 1038.1,581.8 1039.3,734.7 1040.5,632.3 1041.7,612.1 1042.9,689.5 1044.0,631.1 1045.2,687.7 1046.4,832.7 1047.6,691.2 1048.8,728.9 1050.0,777.2 1051.1,682.1 1052.3,701.8 1053.5,603.8 1054.7,564.7 1055.9,540.8 1057.0,580.9 1058.2,603.2 1059.4,628.9 1060.6,566.0 1061.8,607.8 1062.9,701.0 1064.1,712.4 1065.3,657.0 1066.5,615.3 1067.7,623.3 1068.8,680.4 1070.0,608.5 1071.2,589.0 1072.4,654.1 1073.6,705.1 1074.8,664.0 1075.9,676.5 1077.1,710.8 1078.3,714.6 1079.5,721.2 1080.7,638.4 1081.8,590.1 1083.0,602.1 1084.2,646.9 1085.4,590.1 1086.6,600.1 1087.7,613.1 1088.9,633.9 1090.1,678.1 1091.3,682.7 1092.5,579.7 1093.6,601.4 1094.8,629.8 1096.0,629.3 1097.2,556.1 1098.4,515.9 1099.6,561.2 1100.7,577.4 1101.9,632.6 1103.1,656.1 1104.3,675.2 1105.5,692.9 1106.6,563.3 1107.8,581.8 1109.0,650.5 1110.2,642.1 1111.4,730.1 1112.5,652.5 1113.7,551.6 1114.9,928.8 1116.1,592.5 1117.3,718.7 1118.4,659.4 1119.6,651.2 1120.8,671.2 1122.0,777.4 1123.2,789.4 1124.4,692.8 1125.5,551.2 1126.7,689.4 1127.9,651.7 1129.1,602.5 1130.3,700.5 1131.4,771.4 1132.6,722.6 1133.8,642.6 1135.0,600.4 1136.2,655.8 1137.3,632.8 1138.5,654.5 1139.7,584.9 1140.9,602.4 1142.1,610.2 1143.2,585.3 1144.4,628.9 1145.6,629.8 1146.8,783.4 1148.0,709.9 1149.2,718.3 1150.3,734.3 1151.5,670.3 1152.7,699.4 1153.9,674.5 1155.1,600.1 1156.2,741.7 1157.4,763.7 1158.6,702.0 1159.8,639.5 1161.0,611.3 1162.1,740.0 1163.3,697.9 1164.5,674.5 1165.7,737.4 1166.9,799.6 1168.0,696.0 1169.2,663.7 1170.4,715.3 1171.6,727.5 1172.8,659.9 1174.0,741.8 1175.1,664.4 1176.3,692.9 1177.5,679.7 1178.7,548.4 1179.9,589.7 1181.0,652.5 1182.2,633.1 1183.4,621.6 1184.6,606.2 1185.8,628.8 1186.9,585.0 1188.1,537.5 1189.3,615.4 1190.5,609.2 1191.7,846.8 1192.8,827.5 1194.0,790.8 1195.2,780.3 1196.4,704.7 1197.6,685.0 1198.8,756.4 1199.9,695.0 1201.1,675.9 1202.3,662.9 1203.5,689.3 1204.7,728.4 1205.8,744.4 1207.0,685.3 1208.2,721.6 1209.4,736.8 1210.6,654.1 1211.7,696.2 1212.9,709.5 1214.1,570.5 1215.3,566.5 1216.5,679.4 1217.6,663.3 1218.8,782.7 1220.0,667.8 1221.2,731.4 1222.4,660.2 1223.6,697.4 1224.7,787.9 1225.9,726.6 1227.1,616.5 1228.3,602.0 1229.5,689.4 1230.6,737.6 1231.8,773.6 1233.0,599.8 1234.2,631.4 1235.4,773.5 1236.5,726.9 1237.7,686.1 1238.9,609.3 1240.1,755.6 1241.3,741.4 1242.4,722.4 1243.6,779.3 1244.8,731.8 1246.0,726.9 1247.2,664.2 1248.4,682.9 1249.5,618.4 1250.7,724.4 1251.9,629.9 1253.1,692.0 1254.3,701.3 1255.4,599.7 1256.6,637.2 1257.8,627.8 1259.0,640.8 1260.2,726.7 1261.3,692.3 1262.5,622.0 1263.7,685.1 1264.9,654.8 1266.1,592.6 1267.2,569.7 1268.4,785.5 1269.6,772.4 1270.8,825.1 1272.0,728.8 1273.2,759.4 1274.3,617.7 1275.5,689.6 1276.7,748.1 1277.9,780.5 1279.1,688.9 1280.2,744.0 1281.4,707.9 1282.6,666.4 1283.8,716.4 1285.0,760.5 1286.1,668.3 1287.3,619.4 1288.5,681.3 1289.7,601.8 1290.9,711.9 1292.0,621.6 1293.2,677.9 1294.4,780.2 1295.6,770.2 1296.8,781.4 1298.0,802.2 1299.1,961.7 1300.3,725.9 1301.5,892.8 1302.7,759.5 1303.9,703.2 1305.0,775.1 1306.2,731.2 1307.4,722.6 1308.6,670.4 1309.8,689.4 1310.9,627.8 1312.1,775.7 1313.3,823.3 1314.5,757.8 1315.7,701.2 1316.8,642.2 1318.0,727.0 1319.2,737.9 1320.4,739.4 1321.6,679.1 1322.8,681.1 1323.9,587.5 1325.1,629.4 1326.3,672.0 1327.5,708.1 1328.7,795.4 1329.8,723.6 1331.0,762.3 1332.2,849.5 1333.4,733.8 1334.6,796.8 1335.7,749.5 1336.9,679.0 1338.1,505.3 1339.3,667.1 1340.5,595.6 1341.6,694.0 1342.8,804.8 1344.0,621.7 1345.2,834.9 1346.4,759.0 1347.6,683.5 1348.7,682.5 1349.9,737.4 1351.1,662.0 1352.3,706.1 1353.5,732.8 1354.6,675.9 1355.8,723.7 1357.0,678.2 1358.2,752.5 1359.4,763.7 1360.5,753.9 1361.7,806.4 1362.9,871.7 1364.1,737.1 1365.3,638.1 1366.5,611.4 1367.6,979.1 1368.8,798.5 1370.0,645.8 1371.2,608.0 1372.4,581.4 1373.5,695.0 1374.7,674.9 1375.9,693.3 1377.1,659.6 1378.3,676.0 1379.4,723.1 1380.6,842.4 1381.8,671.1 1383.0,632.8 1384.2,640.9 1385.3,709.4 1386.5,601.6 1387.7,592.6 1388.9,734.9 1390.1,805.5 1391.3,598.3 1392.4,625.3 1393.6,616.7 1394.8,677.8 1396.0,660.7 1397.2,679.9 1398.3,746.3 1399.5,715.1 1400.7,733.5 1401.9,911.3 1403.1,750.3 1404.2,739.1 1405.4,744.6 1406.6,780.1 1407.8,687.5 1409.0,710.2 1410.1,676.9 1411.3,782.2 1412.5,709.8 1413.7,699.8 1414.9,737.2 1416.1,726.2 1417.2,802.8 1418.4,768.8 1419.6,612.4 1420.8,717.6 1422.0,662.9 1423.1,680.6 1424.3,696.0 1425.5,618.7 1426.7,674.7 1427.9,672.4 1429.0,684.3 1430.2,768.4 1431.4,678.5 1432.6,675.0 1433.8,600.9 1434.9,706.4 1436.1,687.7 1437.3,951.1 1438.5,773.6 1439.7,735.2 1440.9,806.0 1442.0,760.3 1443.2,671.3 1444.4,813.7 1445.6,657.8 1446.8,661.0 1447.9,644.4 1449.1,706.5 1450.3,704.2 1451.5,728.9 1452.7,668.2 1453.8,598.8 1455.0,755.7 1456.2,832.1 1457.4,751.6 1458.6,872.3 1459.7,693.5 1460.9,741.5 1462.1,823.7 1463.3,803.8 1464.5,791.9 1465.7,801.9 1466.8,808.6 1468.0,761.3 1469.2,704.7 1470.4,757.4 1471.6,598.9 1472.7,579.8 1473.9,666.7 1475.1,747.4 1476.3,602.0 1477.5,748.7 1478.6,805.3 1479.8,629.8 1481.0,660.4 1482.2,589.1 1483.4,723.1 1484.5,783.7 1485.7,747.6 1486.9,729.4 1488.1,691.1 1489.3,746.9 1490.5,590.3 1491.6,586.2 1492.8,615.4 1494.0,597.7 1495.2,625.7 1496.4,714.4 1497.5,861.7 1498.7,867.3 1499.9,748.5 1501.1,697.2 1502.3,699.4 1503.4,724.8 1504.6,704.8 1505.8,694.5 1507.0,741.4 1508.2,697.1 1509.3,724.1 1510.5,732.8 1511.7,752.5 1512.9,701.9 1514.1,739.3 1515.3,1003.7 1516.4,565.4 1517.6,669.6 1518.8,833.4 1520.0,790.1 1521.2,726.6 1522.3,732.7 1523.5,762.4 1524.7,675.7 1525.9,823.5 1527.1,767.3 1528.2,631.0 1529.4,1016.9 1530.6,697.7 1531.8,670.9 1533.0,715.7 1534.1,791.7 1535.3,702.1 1536.5,761.6 1537.7,667.1 1538.9,739.3 1540.1,763.7 1541.2,506.9 1542.4,627.0 1543.6,644.5 1544.8,675.4 1546.0,679.0 1547.1,842.3 1548.3,813.4 1549.5,782.8 1550.7,617.9 1551.9,766.1 1553.0,670.9 1554.2,566.4 1555.4,693.8 1556.6,635.4 1557.8,659.6 1558.9,709.4 1560.1,666.2 1561.3,629.4 1562.5,717.4 1563.7,681.4 1564.9,651.0 1566.0,622.9 1567.2,756.7 1568.4,654.5 1569.6,549.5 1570.8,673.5 1571.9,707.4 1573.1,819.6 1574.3,795.6 1575.5,793.7 1576.7,658.8 1577.8,684.6 1579.0,689.1 1580.2,580.8 1581.4,717.5 1582.6,682.1 1583.7,846.9 1584.9,747.7 1586.1,924.0 1587.3,745.9 1588.5,737.4 1589.7,616.4 1590.8,668.7 1592.0,618.1 1593.2,730.1 1594.4,671.3 1595.6,713.2 1596.7,666.4 1597.9,641.7 1599.1,612.9 1600.3,641.5 1601.5,696.7 1602.6,781.0 1603.8,763.0 1605.0,777.8 1606.2,687.8 1607.4,850.1 1608.5,735.6 1609.7,665.3 1610.9,674.4 1612.1,647.9 1613.3,782.2 1614.5,972.9 1615.6,939.2 1616.8,666.7 1618.0,732.0 1619.2,661.9 1620.4,750.3 1621.5,740.7 1622.7,687.0 1623.9,661.6 1625.1,646.0 1626.3,646.9 1627.4,730.3 1628.6,679.3 1629.8,740.7 1631.0,697.8 1632.2,660.8 1633.3,735.9 1634.5,637.7 1635.7,691.7 1636.9,794.9 1638.1,751.4 1639.3,826.8 1640.4,894.3 1641.6,770.8 1642.8,694.1 1644.0,636.6 1645.2,755.6 1646.3,955.5 1647.5,841.4 1648.7,745.5 1649.9,814.2 1651.1,859.3 1652.2,801.3 1653.4,774.8 1654.6,598.6 1655.8,595.3 1657.0,693.6 1658.1,732.5 1659.3,751.0 1660.5,887.3 1661.7,1015.6 1662.9,797.5 1664.1,899.3 1665.2,826.8 1666.4,770.2 1667.6,1015.9 1668.8,800.7 1670.0,875.8 1671.1,695.1 1672.3,608.0 1673.5,708.4 1674.7,761.7 1675.9,711.4 1677.0,777.9 1678.2,697.7 1679.4,667.5 1680.6,689.3 1681.8,741.0 1682.9,691.2 1684.1,681.6 1685.3,787.1 1686.5,990.6 1687.7,677.0 1688.9,800.0 1690.0,783.3 1691.2,695.7 1692.4,733.9 1693.6,670.7 1694.8,603.6 1695.9,609.2 1697.1,576.6 1698.3,582.7 1699.5,653.2 1700.7,726.0 1701.8,813.8 1703.0,731.7 1704.2,584.5 1705.4,637.1 1706.6,669.5 1707.7,642.0 1708.9,671.0 1710.1,636.6 1711.3,868.3 1712.5,954.0 1713.7,881.0 1714.8,784.7 1716.0,766.4 1717.2,710.2 1718.4,781.3 1719.6,711.2 1720.7,717.9 1721.9,657.8 1723.1,964.6 1724.3,641.5 1725.5,725.2 1726.6,662.0 1727.8,657.8 1729.0,762.1 1730.2,778.6 1731.4,742.8 1732.5,853.0 1733.7,783.0 1734.9,651.7 1736.1,750.8 1737.3,648.6 1738.5,709.5 1739.6,729.5 1740.8,729.4 1742.0,832.9 1743.2,794.1 1744.4,718.1 1745.5,649.8 1746.7,678.6 1747.9,682.3 1749.1,784.7 1750.3,678.5 1751.4,758.1 1752.6,756.4 1753.8,726.8 1755.0,685.3 1756.2,670.8 1757.3,771.4 1758.5,910.4 1759.7,836.8 1760.9,783.7 1762.1,733.5 1763.3,753.0 1764.4,756.6 1765.6,788.0 1766.8,933.5 1768.0,896.0 1769.2,877.1 1770.3,937.4 1771.5,825.3 1772.7,777.8 1773.9,773.0 1775.1,1126.1 1776.2,710.1 1777.4,855.5 1778.6,781.2 1779.8,686.8 1781.0,574.2 1782.2,692.5 1783.3,848.1 1784.5,727.7 1785.7,707.0 1786.9,775.6 1788.1,648.5 1789.2,682.7 1790.4,752.1 1791.6,702.3 1792.8,730.3 1794.0,733.4 1795.1,737.8 1796.3,925.8 1797.5,785.5 1798.7,847.5 1799.9,761.5 1801.0,787.0 1802.2,805.6 1803.4,738.3 1804.6,746.1 1805.8,765.3 1807.0,806.0 1808.1,838.4 1809.3,802.8 1810.5,734.2 1811.7,659.1 1812.9,757.0 1814.0,630.2 1815.2,755.6 1816.4,618.0 1817.6,613.8 1818.8,645.8 1819.9,689.7 1821.1,734.6 1822.3,558.6 1823.5,626.5 1824.7,881.3 1825.8,799.2 1827.0,780.8 1828.2,695.4 1829.4,684.0 1830.6,838.5 1831.8,827.3 1832.9,782.6 1834.1,784.8 1835.3,782.8 1836.5,706.1 1837.7,724.5 1838.8,723.5 1840.0,680.9 1841.2,805.5 1842.4,737.4 1843.6,670.0 1844.7,713.0 1845.9,658.4 1847.1,743.5 1848.3,705.6 1849.5,897.4 1850.6,882.1 1851.8,839.4 1853.0,770.6 1854.2,701.9 1855.4,773.1 1856.6,792.8 1857.7,741.2 1858.9,674.9 1860.1,990.6 1861.3,775.5 1862.5,794.6 1863.6,746.6 1864.8,686.2 1866.0,699.7 1867.2,642.4 1868.4,734.5 1869.5,745.9 1870.7,788.0 1871.9,716.9 1873.1,819.7 1874.3,765.4 1875.4,789.5 1876.6,788.7 1877.8,830.3 1879.0,744.2 1880.2,915.1 1881.4,868.8 1882.5,705.8 1883.7,719.1 1884.9,745.9 1886.1,773.4 1887.3,781.0 1888.4,823.5 1889.6,744.2 1890.8,815.6 1892.0,899.0 1893.2,765.7 1894.3,665.6 1895.5,639.9 1896.7,632.1 1897.9,601.7 1899.1,648.0 1900.2,742.2 1901.4,799.7 1902.6,881.0 1903.8,739.5 1905.0,739.3 1906.2,856.6 1907.3,930.7 1908.5,805.7 1909.7,859.5 1910.9,699.8 1912.1,729.0 1913.2,893.2 1914.4,813.7 1915.6,804.6 1916.8,709.5 1918.0,773.9 1919.1,709.3 1920.3,620.4 1921.5,693.3 1922.7,773.2 1923.9,730.1 1925.0,541.3 1926.2,720.8 1927.4,704.1 1928.6,534.6 1929.8,723.5 1931.0,769.0 1932.1,765.2 1933.3,771.7 1934.5,598.8 1935.7,728.4 1936.9,722.0 1938.0,803.9 1939.2,814.9 1940.4,610.9 1941.6,606.1 1942.8,594.2 1943.9,593.8 1945.1,533.6 1946.3,706.2 1947.5,1014.8 1948.7,1026.8 1949.8,884.7 1951.0,928.2 1952.2,805.9 1953.4,790.8 1954.6,791.0 1955.8,793.2 1956.9,777.0 1958.1,773.5 1959.3,748.1 1960.5,684.2 1961.7,783.8 1962.8,736.6 1964.0,958.9 1965.2,714.2 1966.4,638.4 1967.6,696.3 1968.7,771.5 1969.9,712.3 1971.1,658.5 1972.3,763.8 1973.5,680.0 1974.6,801.3 1975.8,767.0 1977.0,712.3 1978.2,650.7 1979.4,631.0 1980.6,671.9 1981.7,614.1 1982.9,741.2 1984.1,724.0 1985.3,789.5 1986.5,739.2 1987.6,988.8 1988.8,816.9 1990.0,691.6"/>
<polyline fill="none" stroke="#00ff00" stroke-width="3" stroke-linejoin="round" shape-rendering="crispEdges" points="277.6,425.1 278.8,266.0 280.0,186.2 281.1,229.9 282.3,155.3 283.5,167.8 284.7,155.4 285.9,218.8 287.0,305.2 288.2,177.8 289.4,271.1 290.6,119.3 291.8,315.8 293.0,415.7 294.1,340.9 295.3,372.1 296.5,260.8 297.7,218.6 298.9,276.3 300.0,83.1 301.2,310.8 302.4,185.4 303.6,123.4 304.8,244.5 305.9,266.3 307.1,353.5 308.3,329.8 309.5,347.2 310.7,414.6 311.8,176.7 313.0,176.8 314.2,257.0 315.4,257.1 316.6,461.3 317.8,317.4 318.9,392.7 320.1,344.9 321.3,232.8 322.5,271.7 323.7,218.0 324.8,329.9 326.0,93.6 327.2,337.8 328.4,350.3 329.6,370.0 330.7,399.8 331.9,153.1 333.1,337.0 334.3,268.1 335.5,286.8 336.6,207.4 337.8,226.6 339.0,153.1 340.2,287.1 341.4,346.2 342.6,290.8 343.7,507.3 344.9,427.8 346.1,212.4 347.3,234.8 348.5,270.5 349.6,348.6 350.8,306.0 352.0,165.9 353.2,360.1 354.4,375.0 355.5,167.1 356.7,229.1 357.9,419.2 359.1,514.8 360.3,368.6 361.4,230.5 362.6,253.8 363.8,298.7 365.0,293.7 366.2,165.3 367.4,465.5 368.5,336.1 369.7,180.9 370.9,332.0 372.1,197.4 373.3,340.0 374.4,289.9 375.6,286.0 376.8,273.3 378.0,367.1 379.2,486.9 380.3,369.1 381.5,362.2 382.7,189.0 383.9,323.3 385.1,257.0 386.2,179.8 387.4,387.3 388.6,307.6 389.8,301.4 391.0,421.5 392.2,442.6 393.3,362.6 394.5,460.1 395.7,403.7 396.9,196.3 398.1,229.2 399.2,182.2 400.4,232.1 401.6,183.1 402.8,374.7 404.0,266.7 405.1,230.5 406.3,203.5 407.5,244.4 408.7,705.2 409.9,303.7 411.0,506.5 412.2,177.8 413.4,262.5 414.6,355.6 415.8,297.4 417.0,393.0 418.1,212.0 419.3,228.5 420.5,236.0 421.7,414.6 422.9,368.3 424.0,389.3 425.2,359.1 426.4,371.1 427.6,278.2 428.8,311.8 429.9,382.1 431.1,446.6 432.3,417.6 433.5,608.6 434.7,526.0 435.8,370.2 437.0,588.6 438.2,505.4 439.4,392.6 440.6,297.2 441.8,371.9 442.9,283.2 444.1,335.7 445.3,395.3 446.5,380.9 447.7,349.0 448.8,387.7 450.0,335.9 451.2,506.2 452.4,514.6 453.6,441.6 454.7,545.7 455.9,606.6 457.1,351.5 458.3,396.9 459.5,431.9 460.6,379.8 461.8,349.6 463.0,220.0 464.2,477.0 465.4,354.4 466.6,409.2 467.7,381.8 468.9,487.4 470.1,486.4 471.3,462.7 472.5,368.8 473.6,252.0 474.8,348.4 476.0,248.3 477.2,312.0 478.4,330.8 479.5,325.2 480.7,248.2 481.9,363.0 483.1,412.2 484.3,356.6 485.4,396.8 486.6,537.4 487.8,341.5 489.0,400.0 490.2,432.7 491.4,373.1 492.5,417.2 493.7,179.8 494.9,367.6 496.1,361.4 497.3,238.4 498.4,388.6 499.6,325.1 500.8,224.5 502.0,323.8 503.2,390.3 504.3,242.2 505.5,313.9 506.7,323.1 507.9,276.2 509.1,412.3 510.3,444.4 511.4,246.0 512.6,246.7 513.8,247.3 515.0,293.7 516.2,311.6 517.3,382.7 518.5,450.2 519.7,590.4 520.9,652.8 522.1,399.0 523.2,391.7 524.4,346.2 525.6,468.1 526.8,452.6 528.0,430.9 529.1,387.2 530.3,411.0 531.5,352.8 532.7,327.7 533.9,472.7 535.1,692.8 536.2,467.3 537.4,357.6 538.6,404.8 539.8,484.7 541.0,466.8 542.1,513.7 543.3,572.6 544.5,483.0 545.7,439.7 546.9,416.7 548.0,362.1 549.2,409.8 550.4,521.7 551.6,428.9 552.8,450.6 553.9,618.1 555.1,475.7 556.3,332.8 557.5,476.2 558.7,484.7 559.9,390.2 561.0,519.6 562.2,624.3 563.4,417.7 564.6,445.2 565.8,284.0 566.9,551.3 568.1,360.1 569.3,320.8 570.5,451.7 571.7,532.9 572.8,532.8 574.0,515.7 575.2,525.3 576.4,637.8 577.6,713.0 578.7,503.3 579.9,472.2 581.1,515.6 582.3,471.3 583.5,234.4 584.7,281.4 585.8,383.8 587.0,399.2 588.2,402.4 589.4,237.6 590.6,470.5 591.7,596.7 592.9,487.9 594.1,365.1 595.3,533.8 596.5,448.4 597.6,568.4 598.8,569.8 600.0,339.4 601.2,402.0 602.4,402.6 603.5,421.9 604.7,451.3 605.9,388.9 607.1,432.3 608.3,518.0 609.5,557.4 610.6,456.8 611.8,470.3 613.0,464.5 614.2,687.2 615.4,648.6 616.5,573.4 617.7,504.7 618.9,404.7 620.1,394.8 621.3,596.7 622.4,465.9 623.6,534.1 624.8,550.7 626.0,494.0 627.2,504.2 628.3,306.5 629.5,298.5 630.7,307.5 631.9,310.4 633.1,420.3 634.3,388.3 635.4,305.1 636.6,361.8 637.8,430.0 639.0,398.9 640.2,475.4 641.3,557.4 642.5,440.8 643.7,488.0 644.9,483.0 646.1,618.3 647.2,593.6 648.4,385.7 649.6,402.8 650.8,453.0 652.0,412.2 653.1,437.7 654.3,500.3 655.5,536.7 656.7,427.3 657.9,512.7 659.1,451.4 660.2,482.9 661.4,415.7 662.6,651.7 663.8,528.5 665.0,524.4 666.1,564.1 667.3,565.5 668.5,443.6 669.7,491.0 670.9,462.3 672.0,449.9 673.2,547.9 674.4,455.1 675.6,464.4 676.8,486.2 677.9,505.9 679.1,479.0 680.3,489.9 681.5,512.8 682.7,664.5 683.9,530.6 685.0,575.3 686.2,526.9 687.4,470.1 688.6,432.7 689.8,691.1 690.9,504.5 692.1,552.8 693.3,542.2 694.5,503.1 695.7,450.3 696.8,456.3 698.0,537.2 699.2,516.7 700.4,687.5 701.6,507.9 702.7,641.7 703.9,398.8 705.1,423.7 706.3,324.2 707.5,373.9 708.7,441.2 709.8,487.7 711.0,389.9 712.2,410.5 713.4,476.2 714.6,566.3 715.7,539.2 716.9,528.6 718.1,680.3 719.3,762.8 720.5,568.9 721.6,503.5 722.8,524.0 724.0,423.6 725.2,473.2 726.4,535.5 727.5,591.2 728.7,416.5 729.9,358.7 731.1,381.4 732.3,390.9 733.5,865.6 734.6,394.2 735.8,538.5 737.0,517.1 738.2,486.6 739.4,562.3 740.5,504.9 741.7,473.5 742.9,383.9 744.1,356.0 745.3,456.5 746.4,474.6 747.6,555.6 748.8,448.9 750.0,489.1 751.2,616.4 752.3,580.8 753.5,542.7 754.7,275.8 755.9,515.5 757.1,637.6 758.3,626.1 759.4,572.6 760.6,543.8 761.8,398.4 763.0,419.5 764.2,421.2 765.3,411.0 766.5,430.7 767.7,464.2 768.9,415.8 770.1,472.1 771.2,488.7 772.4,470.7 773.6,589.6 774.8,524.0 776.0,561.2 777.1,569.2 778.3,619.0 779.5,674.7 780.7,603.8 781.9,630.0 783.1,490.3 784.2,625.0 785.4,553.3 786.6,480.9 787.8,428.9 789.0,567.1 790.1,692.2 791.3,709.9 792.5,718.9 793.7,490.8 794.9,597.6 796.0,622.4 797.2,602.1 798.4,457.3 799.6,356.4 800.8,480.7 801.9,520.8 803.1,588.2 804.3,570.9 805.5,509.8 806.7,410.9 807.9,385.3 809.0,428.4 810.2,510.4 811.4,358.1 812.6,459.7 813.8,435.6 814.9,464.0 816.1,435.5 817.3,359.0 818.5,519.2 819.7,586.5 820.8,549.0 822.0,573.6 823.2,559.2 824.4,588.9 825.6,637.2 826.7,637.6 827.9,578.0 829.1,512.1 830.3,360.8 831.5,382.5 832.7,442.9 833.8,361.3 835.0,511.8 836.2,372.6 837.4,515.4 838.6,557.9 839.7,610.0 840.9,432.1 842.1,401.1 843.3,454.2 844.5,472.6 845.6,491.7 846.8,466.0 848.0,516.0 849.2,469.4 850.4,573.9 851.5,556.1 852.7,436.9 853.9,483.6 855.1,630.3 856.3,644.8 857.5,632.6 858.6,617.8 859.8,580.9 861.0,467.7 862.2,502.6 863.4,538.4 864.5,557.4 865.7,429.3 866.9,540.1 868.1,577.5 869.3,518.5 870.4,637.5 871.6,453.3 872.8,481.0 874.0,510.0 875.2,499.6 876.3,417.1 877.5,491.9 878.7,479.9 879.9,658.9 881.1,580.1 882.3,430.0 883.4,522.6 884.6,587.4 885.8,482.8 887.0,653.7 888.2,535.9 889.3,617.1 890.5,626.2 891.7,585.2 892.9,520.0 894.1,530.1 895.2,629.1 896.4,608.0 897.6,574.1 898.8,658.8 900.0,692.4 901.1,600.4 902.3,410.8 903.5,371.3 904.7,597.1 905.9,544.9 907.1,371.8 908.2,493.9 909.4,551.0 910.6,662.9 911.8,622.9 913.0,623.5 914.1,546.5 915.3,512.7 916.5,443.9 917.7,617.1 918.9,494.7 920.0,785.3 921.2,641.5 922.4,545.7 923.6,445.1 924.8,566.7 926.0,590.1 927.1,626.7 928.3,556.9 929.5,530.1 930.7,546.5 931.9,512.3 933.0,546.5 934.2,410.7 935.4,561.2 936.6,657.4 937.8,656.9 938.9,532.8 940.1,583.6 941.3,555.8 942.5,518.4 943.7,538.0 944.8,509.3 946.0,377.3 947.2,460.4 948.4,428.8 949.6,377.8 950.8,419.7 951.9,519.5 953.1,556.8 954.3,467.6 955.5,444.0 956.7,557.0 957.8,252.1 959.0,571.4 960.2,511.7 961.4,449.2 962.6,546.3 963.7,594.1 964.9,493.2 966.1,483.2 967.3,420.8 968.5,455.3 969.6,510.1 970.8,512.5 972.0,613.8 973.2,670.5 974.4,538.3 975.6,522.9 976.7,607.4 977.9,555.2 979.1,463.2 980.3,652.4 981.5,562.0 982.6,690.0 983.8,590.7 985.0,434.4 986.2,429.5 987.4,463.3 988.5,553.8 989.7,552.3 990.9,511.9 992.1,595.0 993.3,548.5 994.4,494.9 995.6,584.1 996.8,540.9 998.0,466.2 999.2,513.0 1000.4,486.0 1001.5,406.5 1002.7,535.7 1003.9,573.7 1005.1,608.7 1006.3,611.9 1007.4,540.0 1008.6,654.7 1009.8,509.8 1011.0,443.1 1012.2,494.3 1013.3,480.2 1014.5,471.8 1015.7,433.2 1016.9,518.4 1018.1,548.9 1019.2,574.1 1020.4,553.9 1021.6,506.8 1022.8,497.5 1024.0,629.9 1025.2,676.1 1026.3,607.1 1027.5,502.5 1028.7,608.4 1029.9,566.8 1031.1,746.0 1032.2,676.4 1033.4,617.0 1034.6,567.3 1035.8,665.8 1037.0,665.7 1038.1,580.6 1039.3,615.8 1040.5,641.1 1041.7,670.2 1042.9,702.0 1044.0,605.5 1045.2,623.4 1046.4,584.7 1047.6,618.4 1048.8,558.6 1050.0,518.6 1051.1,526.6 1052.3,628.0 1053.5,639.0 1054.7,662.5 1055.9,704.9 1057.0,594.8 1058.2,564.4 1059.4,584.9 1060.6,571.3 1061.8,485.1 1062.9,524.2 1064.1,543.5 1065.3,627.7 1066.5,764.9 1067.7,711.4 1068.8,730.3 1070.0,643.3 1071.2,640.2 1072.4,614.5 1073.6,721.7 1074.8,665.1 1075.9,567.0 1077.1,534.8 1078.3,560.2 1079.5,537.6 1080.7,498.6 1081.8,520.3 1083.0,409.4 1084.2,525.9 1085.4,616.6 1086.6,571.7 1087.7,488.5 1088.9,506.3 1090.1,508.3 1091.3,602.6 1092.5,846.2 1093.6,846.6 1094.8,838.2 1096.0,665.6 1097.2,593.4 1098.4,533.5 1099.6,499.0 1100.7,581.2 1101.9,630.0 1103.1,645.7 1104.3,547.0 1105.5,416.1 1106.6,532.6 1107.8,574.0 1109.0,496.8 1110.2,612.0 1111.4,556.7 1112.5,606.2 1113.7,615.7 1114.9,566.8 1116.1,588.6 1117.3,748.8 1118.4,640.5 1119.6,522.8 1120.8,600.5 1122.0,703.7 1123.2,560.2 1124.4,487.6 1125.5,538.3 1126.7,422.5 1127.9,501.8 1129.1,477.8 1130.3,632.8 1131.4,588.4 1132.6,524.9 1133.8,492.2 1135.0,614.1 1136.2,555.8 1137.3,609.7 1138.5,639.6 1139.7,656.7 1140.9,628.0 1142.1,588.8 1143.2,636.8 1144.4,671.7 1145.6,648.3 1146.8,463.6 1148.0,477.2 1149.2,487.0 1150.3,556.3 1151.5,656.5 1152.7,613.9 1153.9,540.9 1155.1,561.8 1156.2,662.5 1157.4,663.6 1158.6,737.6 1159.8,630.0 1161.0,592.4 1162.1,626.1 1163.3,525.8 1164.5,571.0 1165.7,670.6 1166.9,562.8 1168.0,687.3 1169.2,806.4 1170.4,692.0 1171.6,633.0 1172.8,639.1 1174.0,659.8 1175.1,575.0 1176.3,521.8 1177.5,608.2 1178.7,733.5 1179.9,679.9 1181.0,519.2 1182.2,621.3 1183.4,590.2 1184.6,629.6 1185.8,570.1 1186.9,705.8 1188.1,606.9 1189.3,565.3 1190.5,572.6 1191.7,492.4 1192.8,529.1 1194.0,632.2 1195.2,793.6 1196.4,762.7 1197.6,592.1 1198.8,625.8 1199.9,604.8 1201.1,731.2 1202.3,625.4 1203.5,657.2 1204.7,735.5 1205.8,684.0 1207.0,531.3 1208.2,570.1 1209.4,680.0 1210.6,696.0 1211.7,882.1 1212.9,787.1 1214.1,746.0 1215.3,587.3 1216.5,479.9 1217.6,565.3 1218.8,574.7 1220.0,564.1 1221.2,643.4 1222.4,601.5 1223.6,449.6 1224.7,685.2 1225.9,692.8 1227.1,569.4 1228.3,582.5 1229.5,637.9 1230.6,696.2 1231.8,450.6 1233.0,589.1 1234.2,644.4 1235.4,628.3 1236.5,712.7 1237.7,707.5 1238.9,639.4 1240.1,659.9 1241.3,610.2 1242.4,593.5 1243.6,609.5 1244.8,452.3 1246.0,552.3 1247.2,608.2 1248.4,567.1 1249.5,676.6 1250.7,675.8 1251.9,721.7 1253.1,683.5 1254.3,727.8 1255.4,665.7 1256.6,551.6 1257.8,626.5 1259.0,694.4 1260.2,524.7 1261.3,617.6 1262.5,607.3 1263.7,642.9 1264.9,722.5 1266.1,617.4 1267.2,764.7 1268.4,651.5 1269.6,602.8 1270.8,697.3 1272.0,762.7 1273.2,682.0 1274.3,648.5 1275.5,745.2 1276.7,568.0 1277.9,654.3 1279.1,572.4 1280.2,456.8 1281.4,500.0 1282.6,512.6 1283.8,557.7 1285.0,545.5 1286.1,464.4 1287.3,457.7 1288.5,523.9 1289.7,796.4 1290.9,726.6 1292.0,552.7 1293.2,549.2 1294.4,707.0 1295.6,472.2 1296.8,514.8 1298.0,573.9 1299.1,492.0 1300.3,617.2 1301.5,723.2 1302.7,720.6 1303.9,741.9 1305.0,701.5 1306.2,670.3 1307.4,829.0 1308.6,809.8 1309.8,634.3 1310.9,701.1 1312.1,701.3 1313.3,694.8 1314.5,761.9 1315.7,698.1 1316.8,597.9 1318.0,636.3 1319.2,689.9 1320.4,613.5 1321.6,606.0 1322.8,558.0 1323.9,523.1 1325.1,548.2 1326.3,476.5 1327.5,523.1 1328.7,510.0 1329.8,524.7 1331.0,676.5 1332.2,728.2 1333.4,721.1 1334.6,675.4 1335.7,572.9 1336.9,573.2 1338.1,603.0 1339.3,612.0 1340.5,644.9 1341.6,698.7 1342.8,678.5 1344.0,631.9 1345.2,610.1 1346.4,654.6 1347.6,562.4 1348.7,534.6 1349.9,684.8 1351.1,632.5 1352.3,545.6 1353.5,496.6 1354.6,468.7 1355.8,506.4 1357.0,664.7 1358.2,696.0 1359.4,722.1 1360.5,781.7 1361.7,727.1 1362.9,775.1 1364.1,715.3 1365.3,597.8 1366.5,578.8 1367.6,574.6 1368.8,614.4 1370.0,586.7 1371.2,584.4 1372.4,581.2 1373.5,591.1 1374.7,593.4 1375.9,675.0 1377.1,622.1 1378.3,579.1 1379.4,565.5 1380.6,580.2 1381.8,674.2 1383.0,591.9 1384.2,776.7 1385.3,746.6 1386.5,754.0 1387.7,626.0 1388.9,470.5 1390.1,530.7 1391.3,559.6 1392.4,544.4 1393.6,690.7 1394.8,641.1 1396.0,728.0 1397.2,760.5 1398.3,799.6 1399.5,715.7 1400.7,601.4 1401.9,501.4 1403.1,548.3 1404.2,645.7 1405.4,672.7 1406.6,769.0 1407.8,775.7 1409.0,584.5 1410.1,547.5 1411.3,609.4 1412.5,666.2 1413.7,716.7 1414.9,780.0 1416.1,604.3 1417.2,540.3 1418.4,579.3 1419.6,610.2 1420.8,532.8 1422.0,609.8 1423.1,543.8 1424.3,619.5 1425.5,694.3 1426.7,576.5 1427.9,608.9 1429.0,737.2 1430.2,726.9 1431.4,598.7 1432.6,598.0 1433.8,501.2 1434.9,655.5 1436.1,660.0 1437.3,698.5 1438.5,709.8 1439.7,599.1 1440.9,575.3 1442.0,476.9 1443.2,477.0 1444.4,691.2 1445.6,681.0 1446.8,659.5 1447.9,664.3 1449.1,526.8 1450.3,367.8 1451.5,735.8 1452.7,671.6 1453.8,522.8 1455.0,560.6 1456.2,584.2 1457.4,526.0 1458.6,444.8 1459.7,739.8 1460.9,644.0 1462.1,608.5 1463.3,606.3 1464.5,493.3 1465.7,528.5 1466.8,501.9 1468.0,655.6 1469.2,624.7 1470.4,519.7 1471.6,717.1 1472.7,672.6 1473.9,593.0 1475.1,737.5 1476.3,480.7 1477.5,524.4 1478.6,698.4 1479.8,646.9 1481.0,759.9 1482.2,866.0 1483.4,757.2 1484.5,710.1 1485.7,572.5 1486.9,590.1 1488.1,588.9 1489.3,637.3 1490.5,611.6 1491.6,625.0 1492.8,614.4 1494.0,577.1 1495.2,628.9 1496.4,693.8 1497.5,740.6 1498.7,614.4 1499.9,620.7 1501.1,642.6 1502.3,648.6 1503.4,659.2 1504.6,660.8 1505.8,660.2 1507.0,707.4 1508.2,764.8 1509.3,641.6 1510.5,679.2 1511.7,568.7 1512.9,534.9 1514.1,876.8 1515.3,779.0 1516.4,591.5 1517.6,615.7 1518.8,794.5 1520.0,717.6 1521.2,638.8 1522.3,629.5 1523.5,659.7 1524.7,663.2 1525.9,575.0 1527.1,548.2 1528.2,565.3 1529.4,509.5 1530.6,486.7 1531.8,568.6 1533.0,703.0 1534.1,801.8 1535.3,696.8 1536.5,658.9 1537.7,602.6 1538.9,592.4 1540.1,600.9 1541.2,588.0 1542.4,592.2 1543.6,488.2 1544.8,696.3 1546.0,653.4 1547.1,753.0 1548.3,488.7 1549.5,592.6 1550.7,780.4 1551.9,753.0 1553.0,696.2 1554.2,679.0 1555.4,694.8 1556.6,541.0 1557.8,532.6 1558.9,385.6 1560.1,660.0 1561.3,708.7 1562.5,630.7 1563.7,518.5 1564.9,624.8 1566.0,562.0 1567.2,676.8 1568.4,722.8 1569.6,760.4 1570.8,694.0 1571.9,677.5 1573.1,632.6 1574.3,661.1 1575.5,526.6 1576.7,524.4 1577.8,529.8 1579.0,592.4 1580.2,635.6 1581.4,761.5 1582.6,622.5 1583.7,602.9 1584.9,761.1 1586.1,638.4 1587.3,827.2 1588.5,815.4 1589.7,897.2 1590.8,765.4 1592.0,733.8 1593.2,629.2 1594.4,654.8 1595.6,591.5 1596.7,549.0 1597.9,640.0 1599.1,520.3 1600.3,699.6 1601.5,699.5 1602.6,796.7 1603.8,769.7 1605.0,725.1 1606.2,657.5 1607.4,642.9 1608.5,746.0 1609.7,746.2 1610.9,729.0 1612.1,707.4 1613.3,742.3 1614.5,783.9 1615.6,710.7 1616.8,675.3 1618.0,773.4 1619.2,597.7 1620.4,760.8 1621.5,724.2 1622.7,632.3 1623.9,763.7 1625.1,685.6 1626.3,573.3 1627.4,605.5 1628.6,610.1 1629.8,815.6 1631.0,724.0 1632.2,722.7 1633.3,716.3 1634.5,609.6 1635.7,701.1 1636.9,712.8 1638.1,618.9 1639.3,550.8 1640.4,504.2 1641.6,677.3 1642.8,639.8 1644.0,735.2 1645.2,622.6 1646.3,811.9 1647.5,667.7 1648.7,578.9 1649.9,595.8 1651.1,671.8 1652.2,670.4 1653.4,559.1 1654.6,632.8 1655.8,749.9 1657.0,736.7 1658.1,716.1 1659.3,692.0 1660.5,561.1 1661.7,517.1 1662.9,684.7 1664.1,649.1 1665.2,501.7 1666.4,517.3 1667.6,572.5 1668.8,773.3 1670.0,732.6 1671.1,502.4 1672.3,678.2 1673.5,635.6 1674.7,673.5 1675.9,724.6 1677.0,609.2 1678.2,563.7 1679.4,561.2 1680.6,525.5 1681.8,503.6 1682.9,634.9 1684.1,596.6 1685.3,646.9 1686.5,688.5 1687.7,654.4 1688.9,692.5 1690.0,722.1 1691.2,903.4 1692.4,729.9 1693.6,1026.8 1694.8,588.3 1695.9,606.2 1697.1,627.8 1698.3,677.8 1699.5,747.9 1700.7,722.1 1701.8,698.4 1703.0,759.3 1704.2,748.3 1705.4,726.1 1706.6,556.2 1707.7,556.5 1708.9,621.6 1710.1,613.2 1711.3,656.4 1712.5,749.1 1713.7,826.1 1714.8,757.7 1716.0,778.3 1717.2,610.7 1718.4,772.8 1719.6,730.8 1720.7,658.3 1721.9,800.4 1723.1,769.0 1724.3,733.7 1725.5,673.9 1726.6,942.7 1727.8,836.5 1729.0,819.8 1730.2,760.3 1731.4,737.3 1732.5,702.3 1733.7,621.8 1734.9,708.9 1736.1,509.7 1737.3,509.8 1738.5,512.1 1739.6,605.3 1740.8,590.9 1742.0,680.6 1743.2,518.4 1744.4,517.7 1745.5,669.7 1746.7,541.9 1747.9,639.3 1749.1,661.7 1750.3,767.7 1751.4,900.4 1752.6,858.6 1753.8,626.3 1755.0,579.5 1756.2,671.7 1757.3,813.7 1758.5,648.7 1759.7,686.0 1760.9,946.5 1762.1,669.3 1763.3,623.2 1764.4,519.5 1765.6,642.2 1766.8,593.3 1768.0,656.3 1769.2,711.4 1770.3,767.0 1771.5,723.2 1772.7,660.7 1773.9,562.1 1775.1,528.5 1776.2,577.2 1777.4,658.6 1778.6,753.9 1779.8,662.8 1781.0,580.8 1782.2,662.5 1783.3,515.0 1784.5,721.6 1785.7,557.0 1786.9,555.7 1788.1,568.7 1789.2,640.0 1790.4,678.8 1791.6,669.9 1792.8,715.8 1794.0,516.2 1795.1,546.0 1796.3,624.6 1797.5,573.6 1798.7,648.0 1799.9,725.7 1801.0,813.9 1802.2,822.6 1803.4,597.7 1804.6,554.9 1805.8,615.8 1807.0,523.0 1808.1,673.4 1809.3,627.3 1810.5,626.1 1811.7,672.9 1812.9,672.6 1814.0,713.9 1815.2,766.9 1816.4,623.4 1817.6,781.6 1818.8,708.1 1819.9,631.0 1821.1,621.2 1822.3,684.6 1823.5,519.6 1824.7,695.3 1825.8,598.6 1827.0,703.8 1828.2,634.9 1829.4,663.5 1830.6,717.4 1831.8,616.0 1832.9,520.6 1834.1,593.0 1835.3,574.9 1836.5,590.8 1837.7,750.8 1838.8,846.8 1840.0,816.3 1841.2,667.4 1842.4,751.4 1843.6,750.3 1844.7,723.5 1845.9,664.5 1847.1,910.8 1848.3,672.2 1849.5,679.4 1850.6,735.8 1851.8,711.1 1853.0,592.5 1854.2,650.0 1855.4,668.6 1856.6,634.1 1857.7,705.7 1858.9,773.5 1860.1,719.6 1861.3,746.0 1862.5,710.5 1863.6,650.4 1864.8,715.5 1866.0,846.4 1867.2,785.1 1868.4,852.8 1869.5,714.4 1870.7,672.8 1871.9,635.5 1873.1,543.5 1874.3,557.1 1875.4,641.7 1876.6,605.2 1877.8,591.2 1879.0,580.3 1880.2,569.1 1881.4,716.6 1882.5,659.1 1883.7,741.2 1884.9,673.8 1886.1,637.8 1887.3,725.2 1888.4,635.5 1889.6,736.9 1890.8,825.2 1892.0,782.8 1893.2,834.9 1894.3,864.8 1895.5,787.9 1896.7,934.9 1897.9,778.9 1899.1,810.0 1900.2,774.4 1901.4,630.5 1902.6,671.7 1903.8,691.4 1905.0,615.2 1906.2,775.5 1907.3,728.2 1908.5,821.4 1909.7,739.2 1910.9,630.2 1912.1,685.6 1913.2,728.9 1914.4,774.8 1915.6,709.1 1916.8,666.4 1918.0,836.6 1919.1,772.0 1920.3,852.9 1921.5,797.4 1922.7,753.0 1923.9,768.0 1925.0,791.9 1926.2,687.8 1927.4,577.9 1928.6,663.4 1929.8,603.6 1931.0,711.7 1932.1,639.7 1933.3,871.8 1934.5,724.4 1935.7,694.1 1936.9,780.5 1938.0,725.3 1939.2,726.9 1940.4,740.0 1941.6,720.9 1942.8,676.6 1943.9,626.8 1945.1,623.0 1946.3,749.0 1947.5,769.7 1948.7,704.7 1949.8,557.4 1951.0,641.0 1952.2,755.4 1953.4,745.7 1954.6,702.4 1955.8,701.9 1956.9,718.3 1958.1,823.9 1959.3,616.4 1960.5,574.6 1961.7,549.6 1962.8,610.9 1964.0,694.9 1965.2,684.5 1966.4,730.4 1967.6,789.8 1968.7,851.9 1969.9,725.3 1971.1,606.4 1972.3,676.2 1973.5,697.9 1974.6,682.6 1975.8,655.8 1977.0,810.4 1978.2,633.6 1979.4,674.9 1980.6,546.5 1981.7,630.7 1982.9,746.8 1984.1,721.0 1985.3,710.9 1986.5,804.8 1987.6,753.1 1988.8,633.3 1990.0,654.7"/></g>
<text transform="translate(277.60 1460.00) scale(0.9700 1)" text-anchor="middle" font-family="'Liberation Serif', 'DejaVu Serif', serif" font-size="79" fill="#212121">0</text>
<text transform="translate(537.05 1460.00) scale(0.9700 1)" text-anchor="middle" font-family="'Liberation Serif', 'DejaVu Serif', serif" font-size="79" fill="#212121">50</text>
<text transform="translate(796.51 1460.00) scale(0.9700 1)" text-anchor="middle" font-family="'Liberation Serif', 'DejaVu Serif', serif" font-size="79" fill="#212121">100</text>
<text transform="translate(1055.96 1460.00) scale(0.9700 1)" text-anchor="middle" font-family="'Liberation Serif', 'DejaVu Serif', serif" font-size="79" fill="#212121">150</text>
<text transform="translate(1315.42 1460.00) scale(0.9700 1)" text-anchor="middle" font-family="'Liberation Serif', 'DejaVu Serif', serif" font-size="79" fill="#212121">200</text>
<text transform="translate(1574.87 1460.00) scale(0.9700 1)" text-anchor="middle" font-family="'Liberation Serif', 'DejaVu Serif', serif" font-size="79" fill="#212121">250</text>
<text transform="translate(1834.33 1460.00) scale(0.9700 1)" text-anchor="middle" font-family="'Liberation Serif', 'DejaVu Serif', serif" font-size="79" fill="#212121">300</text>
<text transform="translate(253.00 75.50) scale(0.9700 1)" text-anchor="end" font-family="'Liberation Serif', 'DejaVu Serif', serif" font-size="79" fill="#212121">0</text>
<text transform="translate(253.00 404.30) scale(0.9700 1)" text-anchor="end" font-family="'Liberation Serif', 'DejaVu Serif', serif" font-size="79" fill="#212121">5</text>
<text transform="translate(215.50 411.10) scale(1.2700 1)" text-anchor="end" font-family="'Liberation Serif', 'DejaVu Serif', serif" font-size="79" fill="#212121">&#8722;</text>
<text transform="translate(253.00 733.10) scale(0.9700 1)" text-anchor="end" font-family="'Liberation Serif', 'DejaVu Serif', serif" font-size="79" fill="#212121">10</text>
<text transform="translate(178.50 739.90) scale(1.2700 1)" text-anchor="end" font-family="'Liberation Serif', 'DejaVu Serif', serif" font-size="79" fill="#212121">&#8722;</text>
<text transform="translate(253.00 1061.90) scale(0.9700 1)" text-anchor="end" font-family="'Liberation Serif', 'DejaVu Serif', serif" font-size="79" fill="#212121">15</text>
<text transform="translate(178.50 1068.70) scale(1.2700 1)" text-anchor="end" font-family="'Liberation Serif', 'DejaVu Serif', serif" font-size="79" fill="#212121">&#8722;</text>
<text transform="translate(253.00 1390.70) scale(0.9700 1)" text-anchor="end" font-family="'Liberation Serif', 'DejaVu Serif', serif" font-size="79" fill="#212121">20</text>
<text transform="translate(178.50 1397.50) scale(1.2700 1)" text-anchor="end" font-family="'Liberation Serif', 'DejaVu Serif', serif" font-size="79" fill="#212121">&#8722;</text>
<text transform="translate(1133.30 1568.80) scale(1.0000 1.0270)" text-anchor="middle" font-family="'Liberation Sans', Arial, Helvetica, sans-serif" font-size="81.5" fill="#212121">Time (s)</text>
<text transform="translate(85.00 713.70) rotate(-90) scale(1.0000 1.0300)" text-anchor="middle" font-family="'Liberation Sans', Arial, Helvetica, sans-serif" font-size="81.4" fill="#404040">MSE (dB)</text>
<rect x="1386.5" y="97.5" width="563.0" height="264.0" fill="#ffffff" stroke="#222222" stroke-width="3"/>
<path d="M1402.0 146.5H1561.0" stroke="#ff0000" stroke-width="3"/>
<text transform="translate(1571.00 172.00) scale(0.9900 1.0300)" font-family="'Liberation Sans', Arial, Helvetica, sans-serif" font-size="67" fill="#000000">SFDFBANC</text>
<path d="M1402.0 230.3H1561.0" stroke="#000000" stroke-width="3"/>
<text transform="translate(1571.00 255.80) scale(0.9900 1.0300)" font-family="'Liberation Sans', Arial, Helvetica, sans-serif" font-size="67" fill="#000000">SWMANC</text>
<path d="M1402.0 314.1H1561.0" stroke="#00ff00" stroke-width="3"/>
<text transform="translate(1571.00 339.60) scale(0.9900 1.0300)" font-family="'Liberation Sans', Arial, Helvetica, sans-serif" font-size="67" fill="#000000">SAIMC</text>
</svg>
</body></html>
